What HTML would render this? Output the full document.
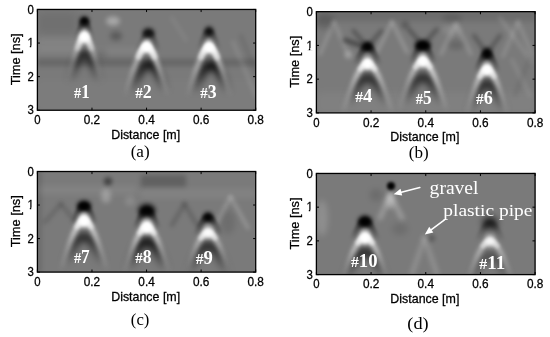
<!DOCTYPE html>
<html><head><meta charset="utf-8"><style>
html,body{margin:0;padding:0;background:#fff;width:550px;height:337px;overflow:hidden}
svg{display:block}
</style></head><body>
<svg width="550" height="337" viewBox="0 0 550 337">
<defs>
<clipPath id="clipa"><rect x="37.4" y="9.45" width="218.30" height="100.80"/></clipPath>
<clipPath id="clipb"><rect x="316.4" y="11.65" width="218.70" height="101.25"/></clipPath>
<clipPath id="clipc"><rect x="37.4" y="171.5" width="218.30" height="100.60"/></clipPath>
<clipPath id="clipd"><rect x="316.4" y="173.45" width="218.70" height="101.15"/></clipPath>
<filter id="bl0" filterUnits="userSpaceOnUse" x="0" y="0" width="550" height="337" color-interpolation-filters="sRGB"><feGaussianBlur stdDeviation="4"/></filter>
<filter id="bl1" filterUnits="userSpaceOnUse" x="0" y="0" width="550" height="337" color-interpolation-filters="sRGB"><feGaussianBlur stdDeviation="3"/></filter>
<filter id="bl2" filterUnits="userSpaceOnUse" x="0" y="0" width="550" height="337" color-interpolation-filters="sRGB"><feGaussianBlur stdDeviation="2.5"/></filter>
<filter id="bl3" filterUnits="userSpaceOnUse" x="0" y="0" width="550" height="337" color-interpolation-filters="sRGB"><feGaussianBlur stdDeviation="2.2"/></filter>
<linearGradient id="lg1" gradientUnits="userSpaceOnUse" x1="0" y1="54.0" x2="0" y2="82.0"><stop offset="0" stop-color="#000" stop-opacity="0.7"/><stop offset="1" stop-color="#000" stop-opacity="0"/></linearGradient>
<linearGradient id="lg2" gradientUnits="userSpaceOnUse" x1="0" y1="21.0" x2="0" y2="39.0"><stop offset="0" stop-color="#000" stop-opacity="0.6"/><stop offset="1" stop-color="#000" stop-opacity="0"/></linearGradient>
<filter id="bl4" filterUnits="userSpaceOnUse" x="0" y="0" width="550" height="337" color-interpolation-filters="sRGB"><feGaussianBlur stdDeviation="1.8"/></filter>
<filter id="bl5" filterUnits="userSpaceOnUse" x="0" y="0" width="550" height="337" color-interpolation-filters="sRGB"><feGaussianBlur stdDeviation="2.3"/></filter>
<linearGradient id="lg3" gradientUnits="userSpaceOnUse" x1="0" y1="36.5" x2="0" y2="82.5"><stop offset="0" stop-color="#fff" stop-opacity="0.65"/><stop offset="1" stop-color="#fff" stop-opacity="0"/></linearGradient>
<filter id="bl6" filterUnits="userSpaceOnUse" x="0" y="0" width="550" height="337" color-interpolation-filters="sRGB"><feGaussianBlur stdDeviation="2.0"/></filter>
<linearGradient id="lg4" gradientUnits="userSpaceOnUse" x1="0" y1="36.5" x2="0" y2="82.5"><stop offset="0" stop-color="#fff" stop-opacity="0.65"/><stop offset="1" stop-color="#fff" stop-opacity="0"/></linearGradient>
<linearGradient id="lg5" gradientUnits="userSpaceOnUse" x1="0" y1="33.5" x2="0" y2="56.5"><stop offset="0" stop-color="#fff" stop-opacity="0.9"/><stop offset="1" stop-color="#fff" stop-opacity="0"/></linearGradient>
<filter id="bl7" filterUnits="userSpaceOnUse" x="0" y="0" width="550" height="337" color-interpolation-filters="sRGB"><feGaussianBlur stdDeviation="1.6"/></filter>
<linearGradient id="lg6" gradientUnits="userSpaceOnUse" x1="0" y1="64.5" x2="0" y2="92.5"><stop offset="0" stop-color="#000" stop-opacity="0.8"/><stop offset="1" stop-color="#000" stop-opacity="0"/></linearGradient>
<linearGradient id="lg7" gradientUnits="userSpaceOnUse" x1="0" y1="33.0" x2="0" y2="51.0"><stop offset="0" stop-color="#000" stop-opacity="0.4"/><stop offset="1" stop-color="#000" stop-opacity="0"/></linearGradient>
<linearGradient id="lg8" gradientUnits="userSpaceOnUse" x1="0" y1="46.5" x2="0" y2="96.5"><stop offset="0" stop-color="#fff" stop-opacity="0.75"/><stop offset="1" stop-color="#fff" stop-opacity="0"/></linearGradient>
<linearGradient id="lg9" gradientUnits="userSpaceOnUse" x1="0" y1="46.5" x2="0" y2="96.5"><stop offset="0" stop-color="#fff" stop-opacity="0.95"/><stop offset="1" stop-color="#fff" stop-opacity="0"/></linearGradient>
<linearGradient id="lg10" gradientUnits="userSpaceOnUse" x1="0" y1="43.5" x2="0" y2="68.5"><stop offset="0" stop-color="#fff" stop-opacity="1.0"/><stop offset="1" stop-color="#fff" stop-opacity="0"/></linearGradient>
<linearGradient id="lg11" gradientUnits="userSpaceOnUse" x1="0" y1="65.5" x2="0" y2="93.5"><stop offset="0" stop-color="#000" stop-opacity="0.85"/><stop offset="1" stop-color="#000" stop-opacity="0"/></linearGradient>
<linearGradient id="lg12" gradientUnits="userSpaceOnUse" x1="0" y1="31.5" x2="0" y2="49.5"><stop offset="0" stop-color="#000" stop-opacity="0.4"/><stop offset="1" stop-color="#000" stop-opacity="0"/></linearGradient>
<linearGradient id="lg13" gradientUnits="userSpaceOnUse" x1="0" y1="47.0" x2="0" y2="97.0"><stop offset="0" stop-color="#fff" stop-opacity="0.75"/><stop offset="1" stop-color="#fff" stop-opacity="0"/></linearGradient>
<linearGradient id="lg14" gradientUnits="userSpaceOnUse" x1="0" y1="47.0" x2="0" y2="97.0"><stop offset="0" stop-color="#fff" stop-opacity="0.9"/><stop offset="1" stop-color="#fff" stop-opacity="0"/></linearGradient>
<linearGradient id="lg15" gradientUnits="userSpaceOnUse" x1="0" y1="44.0" x2="0" y2="69.0"><stop offset="0" stop-color="#fff" stop-opacity="1.0"/><stop offset="1" stop-color="#fff" stop-opacity="0"/></linearGradient>
<filter id="bl8" filterUnits="userSpaceOnUse" x="0" y="0" width="550" height="337" color-interpolation-filters="sRGB"><feGaussianBlur stdDeviation="0.35"/></filter>
<linearGradient id="lg16" gradientUnits="userSpaceOnUse" x1="0" y1="78.0" x2="0" y2="106.0"><stop offset="0" stop-color="#000" stop-opacity="0.65"/><stop offset="1" stop-color="#000" stop-opacity="0"/></linearGradient>
<linearGradient id="lg17" gradientUnits="userSpaceOnUse" x1="0" y1="46.8" x2="0" y2="64.8"><stop offset="0" stop-color="#000" stop-opacity="0.6"/><stop offset="1" stop-color="#000" stop-opacity="0"/></linearGradient>
<linearGradient id="lg18" gradientUnits="userSpaceOnUse" x1="0" y1="63.5" x2="0" y2="113.5"><stop offset="0" stop-color="#fff" stop-opacity="0.8"/><stop offset="1" stop-color="#fff" stop-opacity="0"/></linearGradient>
<linearGradient id="lg19" gradientUnits="userSpaceOnUse" x1="0" y1="63.5" x2="0" y2="113.5"><stop offset="0" stop-color="#fff" stop-opacity="0.8"/><stop offset="1" stop-color="#fff" stop-opacity="0"/></linearGradient>
<linearGradient id="lg20" gradientUnits="userSpaceOnUse" x1="0" y1="60.5" x2="0" y2="83.5"><stop offset="0" stop-color="#fff" stop-opacity="0.85"/><stop offset="1" stop-color="#fff" stop-opacity="0"/></linearGradient>
<linearGradient id="lg21" gradientUnits="userSpaceOnUse" x1="0" y1="77.4" x2="0" y2="105.4"><stop offset="0" stop-color="#000" stop-opacity="0.65"/><stop offset="1" stop-color="#000" stop-opacity="0"/></linearGradient>
<linearGradient id="lg22" gradientUnits="userSpaceOnUse" x1="0" y1="45.4" x2="0" y2="63.4"><stop offset="0" stop-color="#000" stop-opacity="0.6"/><stop offset="1" stop-color="#000" stop-opacity="0"/></linearGradient>
<linearGradient id="lg23" gradientUnits="userSpaceOnUse" x1="0" y1="61.0" x2="0" y2="111.0"><stop offset="0" stop-color="#fff" stop-opacity="0.65"/><stop offset="1" stop-color="#fff" stop-opacity="0"/></linearGradient>
<linearGradient id="lg24" gradientUnits="userSpaceOnUse" x1="0" y1="61.0" x2="0" y2="111.0"><stop offset="0" stop-color="#fff" stop-opacity="0.95"/><stop offset="1" stop-color="#fff" stop-opacity="0"/></linearGradient>
<linearGradient id="lg25" gradientUnits="userSpaceOnUse" x1="0" y1="58.0" x2="0" y2="81.0"><stop offset="0" stop-color="#fff" stop-opacity="0.85"/><stop offset="1" stop-color="#fff" stop-opacity="0"/></linearGradient>
<linearGradient id="lg26" gradientUnits="userSpaceOnUse" x1="0" y1="84.0" x2="0" y2="112.0"><stop offset="0" stop-color="#000" stop-opacity="0.65"/><stop offset="1" stop-color="#000" stop-opacity="0"/></linearGradient>
<linearGradient id="lg27" gradientUnits="userSpaceOnUse" x1="0" y1="53.7" x2="0" y2="71.7"><stop offset="0" stop-color="#000" stop-opacity="0.6"/><stop offset="1" stop-color="#000" stop-opacity="0"/></linearGradient>
<linearGradient id="lg28" gradientUnits="userSpaceOnUse" x1="0" y1="69.4" x2="0" y2="115.4"><stop offset="0" stop-color="#fff" stop-opacity="0.8"/><stop offset="1" stop-color="#fff" stop-opacity="0"/></linearGradient>
<linearGradient id="lg29" gradientUnits="userSpaceOnUse" x1="0" y1="69.4" x2="0" y2="115.4"><stop offset="0" stop-color="#fff" stop-opacity="0.8"/><stop offset="1" stop-color="#fff" stop-opacity="0"/></linearGradient>
<linearGradient id="lg30" gradientUnits="userSpaceOnUse" x1="0" y1="66.4" x2="0" y2="89.4"><stop offset="0" stop-color="#fff" stop-opacity="0.85"/><stop offset="1" stop-color="#fff" stop-opacity="0"/></linearGradient>
<linearGradient id="lg31" gradientUnits="userSpaceOnUse" x1="0" y1="237.0" x2="0" y2="265.0"><stop offset="0" stop-color="#000" stop-opacity="0.65"/><stop offset="1" stop-color="#000" stop-opacity="0"/></linearGradient>
<linearGradient id="lg32" gradientUnits="userSpaceOnUse" x1="0" y1="206.0" x2="0" y2="224.0"><stop offset="0" stop-color="#000" stop-opacity="0.6"/><stop offset="1" stop-color="#000" stop-opacity="0"/></linearGradient>
<linearGradient id="lg33" gradientUnits="userSpaceOnUse" x1="0" y1="220.5" x2="0" y2="270.5"><stop offset="0" stop-color="#fff" stop-opacity="0.85"/><stop offset="1" stop-color="#fff" stop-opacity="0"/></linearGradient>
<linearGradient id="lg34" gradientUnits="userSpaceOnUse" x1="0" y1="220.5" x2="0" y2="270.5"><stop offset="0" stop-color="#fff" stop-opacity="0.85"/><stop offset="1" stop-color="#fff" stop-opacity="0"/></linearGradient>
<linearGradient id="lg35" gradientUnits="userSpaceOnUse" x1="0" y1="217.5" x2="0" y2="240.5"><stop offset="0" stop-color="#fff" stop-opacity="0.85"/><stop offset="1" stop-color="#fff" stop-opacity="0"/></linearGradient>
<linearGradient id="lg36" gradientUnits="userSpaceOnUse" x1="0" y1="242.0" x2="0" y2="270.0"><stop offset="0" stop-color="#000" stop-opacity="0.8"/><stop offset="1" stop-color="#000" stop-opacity="0"/></linearGradient>
<linearGradient id="lg37" gradientUnits="userSpaceOnUse" x1="0" y1="210.5" x2="0" y2="228.5"><stop offset="0" stop-color="#000" stop-opacity="0.7"/><stop offset="1" stop-color="#000" stop-opacity="0"/></linearGradient>
<filter id="bl9" filterUnits="userSpaceOnUse" x="0" y="0" width="550" height="337" color-interpolation-filters="sRGB"><feGaussianBlur stdDeviation="2.6"/></filter>
<linearGradient id="lg38" gradientUnits="userSpaceOnUse" x1="0" y1="227.0" x2="0" y2="273.0"><stop offset="0" stop-color="#fff" stop-opacity="0.85"/><stop offset="1" stop-color="#fff" stop-opacity="0"/></linearGradient>
<linearGradient id="lg39" gradientUnits="userSpaceOnUse" x1="0" y1="227.0" x2="0" y2="273.0"><stop offset="0" stop-color="#fff" stop-opacity="0.85"/><stop offset="1" stop-color="#fff" stop-opacity="0"/></linearGradient>
<linearGradient id="lg40" gradientUnits="userSpaceOnUse" x1="0" y1="224.0" x2="0" y2="247.0"><stop offset="0" stop-color="#fff" stop-opacity="0.85"/><stop offset="1" stop-color="#fff" stop-opacity="0"/></linearGradient>
<linearGradient id="lg41" gradientUnits="userSpaceOnUse" x1="0" y1="246.0" x2="0" y2="274.0"><stop offset="0" stop-color="#000" stop-opacity="0.65"/><stop offset="1" stop-color="#000" stop-opacity="0"/></linearGradient>
<linearGradient id="lg42" gradientUnits="userSpaceOnUse" x1="0" y1="217.3" x2="0" y2="235.3"><stop offset="0" stop-color="#000" stop-opacity="0.6"/><stop offset="1" stop-color="#000" stop-opacity="0"/></linearGradient>
<linearGradient id="lg43" gradientUnits="userSpaceOnUse" x1="0" y1="232.5" x2="0" y2="272.5"><stop offset="0" stop-color="#fff" stop-opacity="0.65"/><stop offset="1" stop-color="#fff" stop-opacity="0"/></linearGradient>
<linearGradient id="lg44" gradientUnits="userSpaceOnUse" x1="0" y1="232.5" x2="0" y2="272.5"><stop offset="0" stop-color="#fff" stop-opacity="0.65"/><stop offset="1" stop-color="#fff" stop-opacity="0"/></linearGradient>
<linearGradient id="lg45" gradientUnits="userSpaceOnUse" x1="0" y1="229.5" x2="0" y2="252.5"><stop offset="0" stop-color="#fff" stop-opacity="0.85"/><stop offset="1" stop-color="#fff" stop-opacity="0"/></linearGradient>
<linearGradient id="lg46" gradientUnits="userSpaceOnUse" x1="0" y1="252.0" x2="0" y2="280.0"><stop offset="0" stop-color="#000" stop-opacity="0.65"/><stop offset="1" stop-color="#000" stop-opacity="0"/></linearGradient>
<linearGradient id="lg47" gradientUnits="userSpaceOnUse" x1="0" y1="221.5" x2="0" y2="239.5"><stop offset="0" stop-color="#000" stop-opacity="0.6"/><stop offset="1" stop-color="#000" stop-opacity="0"/></linearGradient>
<linearGradient id="lg48" gradientUnits="userSpaceOnUse" x1="0" y1="237.5" x2="0" y2="279.5"><stop offset="0" stop-color="#fff" stop-opacity="0.8"/><stop offset="1" stop-color="#fff" stop-opacity="0"/></linearGradient>
<linearGradient id="lg49" gradientUnits="userSpaceOnUse" x1="0" y1="237.5" x2="0" y2="279.5"><stop offset="0" stop-color="#fff" stop-opacity="0.8"/><stop offset="1" stop-color="#fff" stop-opacity="0"/></linearGradient>
<linearGradient id="lg50" gradientUnits="userSpaceOnUse" x1="0" y1="234.5" x2="0" y2="257.5"><stop offset="0" stop-color="#fff" stop-opacity="0.85"/><stop offset="1" stop-color="#fff" stop-opacity="0"/></linearGradient>
<linearGradient id="lg51" gradientUnits="userSpaceOnUse" x1="0" y1="256.0" x2="0" y2="284.0"><stop offset="0" stop-color="#000" stop-opacity="0.35"/><stop offset="1" stop-color="#000" stop-opacity="0"/></linearGradient>
<linearGradient id="lg52" gradientUnits="userSpaceOnUse" x1="0" y1="223.0" x2="0" y2="241.0"><stop offset="0" stop-color="#000" stop-opacity="0.35"/><stop offset="1" stop-color="#000" stop-opacity="0"/></linearGradient>
<linearGradient id="lg53" gradientUnits="userSpaceOnUse" x1="0" y1="241.0" x2="0" y2="285.0"><stop offset="0" stop-color="#fff" stop-opacity="0.6"/><stop offset="1" stop-color="#fff" stop-opacity="0"/></linearGradient>
<linearGradient id="lg54" gradientUnits="userSpaceOnUse" x1="0" y1="241.0" x2="0" y2="285.0"><stop offset="0" stop-color="#fff" stop-opacity="0.6"/><stop offset="1" stop-color="#fff" stop-opacity="0"/></linearGradient>
<linearGradient id="lg55" gradientUnits="userSpaceOnUse" x1="0" y1="238.0" x2="0" y2="261.0"><stop offset="0" stop-color="#fff" stop-opacity="0.65"/><stop offset="1" stop-color="#fff" stop-opacity="0"/></linearGradient>
<filter id="bl10" filterUnits="userSpaceOnUse" x="0" y="0" width="550" height="337" color-interpolation-filters="sRGB"><feGaussianBlur stdDeviation="0.4"/></filter>
</defs>
<g clip-path="url(#clipa)">
<rect x="37.4" y="9.45" width="218.30" height="100.80" fill="#7a7a7a"/>
<rect x="37.0" y="12.0" width="40.0" height="22.0" fill="#000" opacity="0.08" filter="url(#bl0)"/>
<rect x="37.0" y="38.0" width="50.0" height="10.0" fill="#fff" opacity="0.07" filter="url(#bl1)"/>
<rect x="37.0" y="59.0" width="220.0" height="7.0" fill="#000" opacity="0.16" filter="url(#bl2)"/>
<rect x="37.0" y="47.0" width="100.0" height="7.0" fill="#fff" opacity="0.06" filter="url(#bl2)"/>
<rect x="37.0" y="80.0" width="220.0" height="30.0" fill="#fff" opacity="0.02" filter="url(#bl0)"/>
<ellipse cx="113.0" cy="21.0" rx="7" ry="4.5" fill="#fff" opacity="0.35" filter="url(#bl2)"/>
<ellipse cx="116.0" cy="36.0" rx="6" ry="4.5" fill="#000" opacity="0.25" filter="url(#bl2)"/>
<ellipse cx="101.0" cy="54.0" rx="5" ry="5" fill="#000" opacity="0.12" filter="url(#bl1)"/>
<path d="M233.0,42.0 L256.0,96.0" stroke="#fff" stroke-opacity="0.1" stroke-width="4" stroke-linecap="round" filter="url(#bl3)"/>
<path d="M241.0,36.0 L256.0,72.0" stroke="#000" stroke-opacity="0.09" stroke-width="4" stroke-linecap="round" filter="url(#bl3)"/>
<path d="M172.0,18.0 L186.0,40.0" stroke="#fff" stroke-opacity="0.07" stroke-width="4" stroke-linecap="round" filter="url(#bl3)"/>
<path d="M66.4,94.1 L66.9,92.4 L67.4,90.7 L67.9,89.1 L68.4,87.4 L68.9,85.8 L69.4,84.2 L69.9,82.6 L70.4,81.0 L70.9,79.5 L71.4,77.9 L71.9,76.4 L72.4,74.9 L72.9,73.5 L73.4,72.1 L73.9,70.7 L74.4,69.3 L74.9,68.0 L75.4,66.7 L75.9,65.5 L76.4,64.3 L76.9,63.2 L77.4,62.1 L77.9,61.0 L78.4,60.1 L78.9,59.1 L79.4,58.3 L79.9,57.5 L80.4,56.8 L80.9,56.1 L81.4,55.6 L81.9,55.1 L82.4,54.7 L82.9,54.4 L83.4,54.2 L83.9,54.0 L84.4,54.0 L84.9,54.0 L85.4,54.2 L85.9,54.4 L86.4,54.7 L86.9,55.1 L87.4,55.6 L87.9,56.1 L88.4,56.8 L88.9,57.5 L89.4,58.3 L89.9,59.1 L90.4,60.1 L90.9,61.0 L91.4,62.1 L91.9,63.2 L92.4,64.3 L92.9,65.5 L93.4,66.7 L93.9,68.0 L94.4,69.3 L94.9,70.7 L95.4,72.1 L95.9,73.5 L96.4,74.9 L96.9,76.4 L97.4,77.9 L97.9,79.5 L98.4,81.0 L98.9,82.6 L99.4,84.2 L99.9,85.8 L100.4,87.4 L100.9,89.1 L101.4,90.7 L101.9,92.4 L102.4,94.1" fill="none" stroke="url(#lg1)" stroke-width="9" stroke-linejoin="round" stroke-linecap="round" filter="url(#bl1)"/>
<path d="M70.4,66.6 L70.9,64.7 L71.4,62.7 L71.9,60.8 L72.4,58.8 L72.9,56.9 L73.4,54.9 L73.9,53.0 L74.4,51.1 L74.9,49.2 L75.4,47.3 L75.9,45.4 L76.4,43.5 L76.9,41.6 L77.4,39.7 L77.9,37.9 L78.4,36.1 L78.9,34.3 L79.4,32.5 L79.9,30.8 L80.4,29.2 L80.9,27.6 L81.4,26.1 L81.9,24.7 L82.4,23.5 L82.9,22.5 L83.4,21.7 L83.9,21.2 L84.4,21.0 L84.9,21.2 L85.4,21.7 L85.9,22.5 L86.4,23.5 L86.9,24.7 L87.4,26.1 L87.9,27.6 L88.4,29.2 L88.9,30.8 L89.4,32.5 L89.9,34.3 L90.4,36.1 L90.9,37.9 L91.4,39.7 L91.9,41.6 L92.4,43.5 L92.9,45.4 L93.4,47.3 L93.9,49.2 L94.4,51.1 L94.9,53.0 L95.4,54.9 L95.9,56.9 L96.4,58.8 L96.9,60.8 L97.4,62.7 L97.9,64.7 L98.4,66.6" fill="none" stroke="url(#lg2)" stroke-width="6" stroke-linejoin="round" stroke-linecap="round" filter="url(#bl4)"/>
<ellipse cx="84.4" cy="21.0" rx="4.6" ry="4.6" fill="#000" opacity="1.0" filter="url(#bl5)"/>
<path d="M62.4,101.5 L62.9,99.6 L63.4,97.7 L63.9,95.8 L64.4,94.0 L64.9,92.1 L65.4,90.2 L65.9,88.4 L66.4,86.5 L66.9,84.6 L67.4,82.8 L67.9,81.0 L68.3,79.1 L68.8,77.3 L69.3,75.5 L69.8,73.7 L70.3,71.9 L70.8,70.1 L71.3,68.3 L71.8,66.6 L72.3,64.9 L72.8,63.1 L73.3,61.4 L73.8,59.8 L74.3,58.1 L74.8,56.5 L75.3,54.9 L75.8,53.3 L76.3,51.7 L76.8,50.2 L77.3,48.8 L77.8,47.4 L78.3,46.0 L78.8,44.7 L79.2,43.5 L79.7,42.3 L80.2,41.2 L80.7,40.2 L81.2,39.3 L81.7,38.5 L82.2,37.9 L82.7,37.3 L83.2,36.9 L83.7,36.6 L84.2,36.5 L84.7,36.5" fill="none" stroke="url(#lg3)" stroke-width="4.5" stroke-linejoin="round" stroke-linecap="round" filter="url(#bl6)"/>
<path d="M84.1,36.5 L84.6,36.5 L85.1,36.6 L85.6,36.9 L86.1,37.3 L86.6,37.9 L87.1,38.5 L87.6,39.3 L88.1,40.2 L88.6,41.2 L89.1,42.3 L89.6,43.5 L90.0,44.7 L90.5,46.0 L91.0,47.4 L91.5,48.8 L92.0,50.2 L92.5,51.7 L93.0,53.3 L93.5,54.9 L94.0,56.5 L94.5,58.1 L95.0,59.8 L95.5,61.4 L96.0,63.1 L96.5,64.9 L97.0,66.6 L97.5,68.3 L98.0,70.1 L98.5,71.9 L99.0,73.7 L99.5,75.5 L100.0,77.3 L100.5,79.1 L100.9,81.0 L101.4,82.8 L101.9,84.6 L102.4,86.5 L102.9,88.4 L103.4,90.2 L103.9,92.1 L104.4,94.0 L104.9,95.8 L105.4,97.7 L105.9,99.6 L106.4,101.5" fill="none" stroke="url(#lg4)" stroke-width="4.5" stroke-linejoin="round" stroke-linecap="round" filter="url(#bl6)"/>
<ellipse cx="84.4" cy="36.5" rx="5.5" ry="6.5" fill="#fff" opacity="1.0" filter="url(#bl3)"/>
<path d="M77.4,48.4 L77.9,47.0 L78.4,45.6 L78.9,44.3 L79.4,43.1 L79.9,41.9 L80.4,40.9 L80.9,39.9 L81.4,39.0 L81.9,38.3 L82.4,37.7 L82.9,37.2 L83.4,36.8 L83.9,36.6 L84.4,36.5 L84.9,36.6 L85.4,36.8 L85.9,37.2 L86.4,37.7 L86.9,38.3 L87.4,39.0 L87.9,39.9 L88.4,40.9 L88.9,41.9 L89.4,43.1 L89.9,44.3 L90.4,45.6 L90.9,47.0 L91.4,48.4" fill="none" stroke="url(#lg5)" stroke-width="5.5" stroke-linejoin="round" stroke-linecap="round" filter="url(#bl7)"/>
<path d="M130.5,95.9 L131.0,94.4 L131.5,93.0 L132.0,91.7 L132.5,90.3 L133.0,88.9 L133.5,87.6 L134.0,86.3 L134.5,85.0 L135.0,83.8 L135.5,82.6 L136.0,81.3 L136.5,80.2 L137.0,79.0 L137.5,77.9 L138.0,76.8 L138.5,75.8 L139.0,74.8 L139.5,73.8 L140.0,72.9 L140.5,72.0 L141.0,71.1 L141.5,70.3 L142.0,69.5 L142.5,68.8 L143.0,68.1 L143.5,67.5 L144.0,67.0 L144.5,66.5 L145.0,66.0 L145.5,65.6 L146.0,65.3 L146.5,65.0 L147.0,64.8 L147.5,64.6 L148.0,64.5 L148.5,64.5 L149.0,64.5 L149.5,64.6 L150.0,64.8 L150.5,65.0 L151.0,65.3 L151.5,65.6 L152.0,66.0 L152.5,66.5 L153.0,67.0 L153.5,67.5 L154.0,68.1 L154.5,68.8 L155.0,69.5 L155.5,70.3 L156.0,71.1 L156.5,72.0 L157.0,72.9 L157.5,73.8 L158.0,74.8 L158.5,75.8 L159.0,76.8 L159.5,77.9 L160.0,79.0 L160.5,80.2 L161.0,81.3 L161.5,82.6 L162.0,83.8 L162.5,85.0 L163.0,86.3 L163.5,87.6 L164.0,88.9 L164.5,90.3 L165.0,91.7 L165.5,93.0 L166.0,94.4 L166.5,95.9" fill="none" stroke="url(#lg6)" stroke-width="9" stroke-linejoin="round" stroke-linecap="round" filter="url(#bl1)"/>
<path d="M134.5,66.4 L135.0,64.7 L135.5,63.0 L136.0,61.4 L136.5,59.7 L137.0,58.1 L137.5,56.5 L138.0,54.9 L138.5,53.3 L139.0,51.8 L139.5,50.2 L140.0,48.7 L140.5,47.3 L141.0,45.8 L141.5,44.5 L142.0,43.1 L142.5,41.8 L143.0,40.6 L143.5,39.4 L144.0,38.3 L144.5,37.3 L145.0,36.3 L145.5,35.5 L146.0,34.8 L146.5,34.1 L147.0,33.6 L147.5,33.3 L148.0,33.1 L148.5,33.0 L149.0,33.1 L149.5,33.3 L150.0,33.6 L150.5,34.1 L151.0,34.8 L151.5,35.5 L152.0,36.3 L152.5,37.3 L153.0,38.3 L153.5,39.4 L154.0,40.6 L154.5,41.8 L155.0,43.1 L155.5,44.5 L156.0,45.8 L156.5,47.3 L157.0,48.7 L157.5,50.2 L158.0,51.8 L158.5,53.3 L159.0,54.9 L159.5,56.5 L160.0,58.1 L160.5,59.7 L161.0,61.4 L161.5,63.0 L162.0,64.7 L162.5,66.4" fill="none" stroke="url(#lg7)" stroke-width="6" stroke-linejoin="round" stroke-linecap="round" filter="url(#bl4)"/>
<ellipse cx="148.5" cy="33.0" rx="6" ry="5" fill="#000" opacity="0.75" filter="url(#bl5)"/>
<path d="M120.5,112.5 L121.0,110.8 L121.5,109.1 L122.0,107.4 L122.5,105.7 L123.0,104.0 L123.5,102.3 L124.0,100.7 L124.5,99.0 L125.0,97.3 L125.5,95.7 L126.0,94.0 L126.5,92.4 L127.0,90.7 L127.4,89.1 L127.9,87.5 L128.4,85.9 L128.9,84.3 L129.4,82.7 L129.9,81.1 L130.4,79.5 L130.9,78.0 L131.4,76.4 L131.9,74.9 L132.4,73.4 L132.9,71.9 L133.4,70.5 L133.9,69.0 L134.4,67.6 L134.9,66.2 L135.4,64.8 L135.9,63.4 L136.4,62.1 L136.9,60.8 L137.4,59.6 L137.9,58.4 L138.4,57.2 L138.9,56.1 L139.4,55.0 L139.9,53.9 L140.3,52.9 L140.8,52.0 L141.3,51.1 L141.8,50.3 L142.3,49.6 L142.8,48.9 L143.3,48.3 L143.8,47.8 L144.3,47.4 L144.8,47.0 L145.3,46.8 L145.8,46.6 L146.3,46.5 L146.8,46.5" fill="none" stroke="url(#lg8)" stroke-width="4.5" stroke-linejoin="round" stroke-linecap="round" filter="url(#bl6)"/>
<path d="M146.2,46.5 L146.7,46.5 L147.2,46.6 L147.7,46.8 L148.2,47.0 L148.7,47.4 L149.2,47.8 L149.7,48.3 L150.2,48.9 L150.7,49.6 L151.2,50.3 L151.7,51.1 L152.2,52.0 L152.7,52.9 L153.1,53.9 L153.6,55.0 L154.1,56.1 L154.6,57.2 L155.1,58.4 L155.6,59.6 L156.1,60.8 L156.6,62.1 L157.1,63.4 L157.6,64.8 L158.1,66.2 L158.6,67.6 L159.1,69.0 L159.6,70.5 L160.1,71.9 L160.6,73.4 L161.1,74.9 L161.6,76.4 L162.1,78.0 L162.6,79.5 L163.1,81.1 L163.6,82.7 L164.1,84.3 L164.6,85.9 L165.1,87.5 L165.6,89.1 L166.0,90.7 L166.5,92.4 L167.0,94.0 L167.5,95.7 L168.0,97.3 L168.5,99.0 L169.0,100.7 L169.5,102.3 L170.0,104.0 L170.5,105.7 L171.0,107.4 L171.5,109.1 L172.0,110.8 L172.5,112.5" fill="none" stroke="url(#lg9)" stroke-width="4.5" stroke-linejoin="round" stroke-linecap="round" filter="url(#bl6)"/>
<ellipse cx="146.5" cy="46.5" rx="5" ry="6.5" fill="#fff" opacity="1.0" filter="url(#bl3)"/>
<path d="M138.5,56.9 L139.0,55.7 L139.5,54.7 L140.0,53.6 L140.5,52.6 L141.0,51.7 L141.5,50.9 L142.0,50.1 L142.5,49.3 L143.0,48.7 L143.5,48.1 L144.0,47.6 L144.5,47.2 L145.0,46.9 L145.5,46.7 L146.0,46.5 L146.5,46.5 L147.0,46.5 L147.5,46.7 L148.0,46.9 L148.5,47.2 L149.0,47.6 L149.5,48.1 L150.0,48.7 L150.5,49.3 L151.0,50.1 L151.5,50.9 L152.0,51.7 L152.5,52.6 L153.0,53.6 L153.5,54.7 L154.0,55.7 L154.5,56.9" fill="none" stroke="url(#lg10)" stroke-width="6" stroke-linejoin="round" stroke-linecap="round" filter="url(#bl7)"/>
<path d="M193.0,96.5 L193.5,95.1 L194.0,93.7 L194.5,92.3 L195.0,91.0 L195.5,89.6 L196.0,88.3 L196.5,87.0 L197.0,85.8 L197.5,84.5 L198.0,83.3 L198.5,82.1 L199.0,81.0 L199.5,79.8 L200.0,78.7 L200.5,77.6 L201.0,76.6 L201.5,75.6 L202.0,74.6 L202.5,73.7 L203.0,72.8 L203.5,72.0 L204.0,71.2 L204.5,70.4 L205.0,69.7 L205.5,69.1 L206.0,68.5 L206.5,67.9 L207.0,67.4 L207.5,67.0 L208.0,66.6 L208.5,66.3 L209.0,66.0 L209.5,65.8 L210.0,65.6 L210.5,65.5 L211.0,65.5 L211.5,65.5 L212.0,65.6 L212.5,65.8 L213.0,66.0 L213.5,66.3 L214.0,66.6 L214.5,67.0 L215.0,67.4 L215.5,67.9 L216.0,68.5 L216.5,69.1 L217.0,69.7 L217.5,70.4 L218.0,71.2 L218.5,72.0 L219.0,72.8 L219.5,73.7 L220.0,74.6 L220.5,75.6 L221.0,76.6 L221.5,77.6 L222.0,78.7 L222.5,79.8 L223.0,81.0 L223.5,82.1 L224.0,83.3 L224.5,84.5 L225.0,85.8 L225.5,87.0 L226.0,88.3 L226.5,89.6 L227.0,91.0 L227.5,92.3 L228.0,93.7 L228.5,95.1 L229.0,96.5" fill="none" stroke="url(#lg11)" stroke-width="9" stroke-linejoin="round" stroke-linecap="round" filter="url(#bl1)"/>
<path d="M195.0,65.7 L195.5,64.1 L196.0,62.4 L196.5,60.7 L197.0,59.0 L197.5,57.4 L198.0,55.7 L198.5,54.1 L199.0,52.5 L199.5,50.9 L200.0,49.4 L200.5,47.9 L201.0,46.4 L201.5,44.9 L202.0,43.5 L202.5,42.1 L203.0,40.7 L203.5,39.5 L204.0,38.2 L204.5,37.1 L205.0,36.0 L205.5,35.0 L206.0,34.1 L206.5,33.4 L207.0,32.7 L207.5,32.2 L208.0,31.8 L208.5,31.6 L209.0,31.5 L209.5,31.6 L210.0,31.8 L210.5,32.2 L211.0,32.7 L211.5,33.4 L212.0,34.1 L212.5,35.0 L213.0,36.0 L213.5,37.1 L214.0,38.2 L214.5,39.5 L215.0,40.7 L215.5,42.1 L216.0,43.5 L216.5,44.9 L217.0,46.4 L217.5,47.9 L218.0,49.4 L218.5,50.9 L219.0,52.5 L219.5,54.1 L220.0,55.7 L220.5,57.4 L221.0,59.0 L221.5,60.7 L222.0,62.4 L222.5,64.1 L223.0,65.7" fill="none" stroke="url(#lg12)" stroke-width="6" stroke-linejoin="round" stroke-linecap="round" filter="url(#bl4)"/>
<ellipse cx="209.0" cy="31.5" rx="4.5" ry="5" fill="#000" opacity="0.8" filter="url(#bl5)"/>
<path d="M183.0,112.7 L183.5,111.0 L184.0,109.3 L184.5,107.6 L185.0,105.9 L185.5,104.2 L186.0,102.5 L186.5,100.9 L187.0,99.2 L187.5,97.5 L188.0,95.9 L188.5,94.2 L189.0,92.6 L189.5,90.9 L189.9,89.3 L190.4,87.7 L190.9,86.1 L191.4,84.5 L191.9,82.9 L192.4,81.3 L192.9,79.8 L193.4,78.2 L193.9,76.7 L194.4,75.2 L194.9,73.7 L195.4,72.2 L195.9,70.8 L196.4,69.3 L196.9,67.9 L197.4,66.5 L197.9,65.1 L198.4,63.8 L198.9,62.5 L199.4,61.2 L199.9,60.0 L200.4,58.7 L200.9,57.6 L201.4,56.5 L201.9,55.4 L202.4,54.3 L202.8,53.4 L203.3,52.4 L203.8,51.6 L204.3,50.8 L204.8,50.0 L205.3,49.4 L205.8,48.8 L206.3,48.3 L206.8,47.9 L207.3,47.5 L207.8,47.3 L208.3,47.1 L208.8,47.0 L209.3,47.0" fill="none" stroke="url(#lg13)" stroke-width="4.5" stroke-linejoin="round" stroke-linecap="round" filter="url(#bl6)"/>
<path d="M208.7,47.0 L209.2,47.0 L209.7,47.1 L210.2,47.3 L210.7,47.5 L211.2,47.9 L211.7,48.3 L212.2,48.8 L212.7,49.4 L213.2,50.0 L213.7,50.8 L214.2,51.6 L214.7,52.4 L215.2,53.4 L215.6,54.3 L216.1,55.4 L216.6,56.5 L217.1,57.6 L217.6,58.7 L218.1,60.0 L218.6,61.2 L219.1,62.5 L219.6,63.8 L220.1,65.1 L220.6,66.5 L221.1,67.9 L221.6,69.3 L222.1,70.8 L222.6,72.2 L223.1,73.7 L223.6,75.2 L224.1,76.7 L224.6,78.2 L225.1,79.8 L225.6,81.3 L226.1,82.9 L226.6,84.5 L227.1,86.1 L227.6,87.7 L228.1,89.3 L228.5,90.9 L229.0,92.6 L229.5,94.2 L230.0,95.9 L230.5,97.5 L231.0,99.2 L231.5,100.9 L232.0,102.5 L232.5,104.2 L233.0,105.9 L233.5,107.6 L234.0,109.3 L234.5,111.0 L235.0,112.7" fill="none" stroke="url(#lg14)" stroke-width="4.5" stroke-linejoin="round" stroke-linecap="round" filter="url(#bl6)"/>
<ellipse cx="209.0" cy="47.0" rx="5" ry="6.5" fill="#fff" opacity="1.0" filter="url(#bl3)"/>
<path d="M201.0,57.3 L201.5,56.1 L202.0,55.1 L202.5,54.0 L203.0,53.1 L203.5,52.2 L204.0,51.3 L204.5,50.5 L205.0,49.8 L205.5,49.2 L206.0,48.6 L206.5,48.1 L207.0,47.7 L207.5,47.4 L208.0,47.2 L208.5,47.0 L209.0,47.0 L209.5,47.0 L210.0,47.2 L210.5,47.4 L211.0,47.7 L211.5,48.1 L212.0,48.6 L212.5,49.2 L213.0,49.8 L213.5,50.5 L214.0,51.3 L214.5,52.2 L215.0,53.1 L215.5,54.0 L216.0,55.1 L216.5,56.1 L217.0,57.3" fill="none" stroke="url(#lg15)" stroke-width="6" stroke-linejoin="round" stroke-linecap="round" filter="url(#bl7)"/>
<text x="74.10" y="98.00" font-family="'Liberation Serif', 'Times New Roman', serif" font-size="18.5" font-weight="bold" fill="#fff" textLength="15.60" lengthAdjust="spacingAndGlyphs" filter="url(#bl8)"><tspan font-size="15.5">#</tspan>1</text>
<text x="135.20" y="98.00" font-family="'Liberation Serif', 'Times New Roman', serif" font-size="18.5" font-weight="bold" fill="#fff" textLength="16.50" lengthAdjust="spacingAndGlyphs" filter="url(#bl8)"><tspan font-size="15.5">#</tspan>2</text>
<text x="200.20" y="98.20" font-family="'Liberation Serif', 'Times New Roman', serif" font-size="18.5" font-weight="bold" fill="#fff" textLength="16.30" lengthAdjust="spacingAndGlyphs" filter="url(#bl8)"><tspan font-size="15.5">#</tspan>3</text>
</g>
<path d="M37.40,110.25v-2.6M37.40,9.45v2.6M91.97,110.25v-2.6M91.97,9.45v2.6M146.55,110.25v-2.6M146.55,9.45v2.6M201.12,110.25v-2.6M201.12,9.45v2.6M255.70,110.25v-2.6M255.70,9.45v2.6M37.40,9.45h2.6M255.70,9.45h-2.6M37.40,43.05h2.6M255.70,43.05h-2.6M37.40,76.65h2.6M255.70,76.65h-2.6M37.40,110.25h2.6M255.70,110.25h-2.6" stroke="#000" stroke-width="1" fill="none"/>
<rect x="37.4" y="9.45" width="218.30" height="100.80" fill="none" stroke="#000" stroke-width="1.3"/>
<text transform="translate(33.80,13.55) scale(1,1.07)" x="0" y="0" font-family="'Liberation Sans', Arial, Helvetica, sans-serif" font-size="11.4" text-anchor="end" fill="#000" font-weight="normal" stroke="#000" stroke-width="0.25" >0</text>
<text transform="translate(33.80,47.15) scale(1,1.07)" x="0" y="0" font-family="'Liberation Sans', Arial, Helvetica, sans-serif" font-size="11.4" text-anchor="end" fill="#000" font-weight="normal" stroke="#000" stroke-width="0.25" >1</text>
<rect x="26.80" y="45.70" width="3.00" height="2.6" fill="#fff"/>
<rect x="31.25" y="45.70" width="3.20" height="2.6" fill="#fff"/>
<text transform="translate(33.80,80.75) scale(1,1.07)" x="0" y="0" font-family="'Liberation Sans', Arial, Helvetica, sans-serif" font-size="11.4" text-anchor="end" fill="#000" font-weight="normal" stroke="#000" stroke-width="0.25" >2</text>
<text transform="translate(33.80,114.35) scale(1,1.07)" x="0" y="0" font-family="'Liberation Sans', Arial, Helvetica, sans-serif" font-size="11.4" text-anchor="end" fill="#000" font-weight="normal" stroke="#000" stroke-width="0.25" >3</text>
<text transform="translate(37.40,123.85) scale(1,1.07)" x="0" y="0" font-family="'Liberation Sans', Arial, Helvetica, sans-serif" font-size="11.4" text-anchor="middle" fill="#000" font-weight="normal" stroke="#000" stroke-width="0.25" >0</text>
<text transform="translate(91.97,123.85) scale(1,1.07)" x="0" y="0" font-family="'Liberation Sans', Arial, Helvetica, sans-serif" font-size="11.4" text-anchor="middle" fill="#000" font-weight="normal" textLength="16.4" lengthAdjust="spacingAndGlyphs" stroke="#000" stroke-width="0.25" >0.2</text>
<text transform="translate(146.55,123.85) scale(1,1.07)" x="0" y="0" font-family="'Liberation Sans', Arial, Helvetica, sans-serif" font-size="11.4" text-anchor="middle" fill="#000" font-weight="normal" textLength="16.4" lengthAdjust="spacingAndGlyphs" stroke="#000" stroke-width="0.25" >0.4</text>
<text transform="translate(201.12,123.85) scale(1,1.07)" x="0" y="0" font-family="'Liberation Sans', Arial, Helvetica, sans-serif" font-size="11.4" text-anchor="middle" fill="#000" font-weight="normal" textLength="16.4" lengthAdjust="spacingAndGlyphs" stroke="#000" stroke-width="0.25" >0.6</text>
<text transform="translate(255.70,123.85) scale(1,1.07)" x="0" y="0" font-family="'Liberation Sans', Arial, Helvetica, sans-serif" font-size="11.4" text-anchor="middle" fill="#000" font-weight="normal" textLength="16.4" lengthAdjust="spacingAndGlyphs" stroke="#000" stroke-width="0.25" >0.8</text>
<text transform="translate(145.65,138.65) scale(1,1.07)" x="0" y="0" font-family="'Liberation Sans', Arial, Helvetica, sans-serif" font-size="11.4" text-anchor="middle" fill="#000" font-weight="normal" textLength="69" lengthAdjust="spacingAndGlyphs" stroke="#000" stroke-width="0.25" >Distance [m]</text>
<g transform="translate(20.20,59.35) rotate(-90)"><text transform="translate(0.00,0.00) scale(1,1.07)" x="0" y="0" font-family="'Liberation Sans', Arial, Helvetica, sans-serif" font-size="11.4" text-anchor="middle" fill="#000" font-weight="normal" textLength="52" lengthAdjust="spacingAndGlyphs" stroke="#000" stroke-width="0.25" >Time [ns]</text></g>
<text x="140.15" y="156.50" font-family="'Liberation Serif', 'Times New Roman', serif" font-size="16.5" text-anchor="middle" fill="#000" font-weight="normal" textLength="19.0" lengthAdjust="spacingAndGlyphs" >(a)</text>
<g clip-path="url(#clipb)">
<rect x="316.4" y="11.65" width="218.70" height="101.25" fill="#7a7a7a"/>
<rect x="316.0" y="10.0" width="220.0" height="11.0" fill="#000" opacity="0.12" filter="url(#bl1)"/>
<ellipse cx="325.0" cy="22.0" rx="10" ry="7" fill="#000" opacity="0.18" filter="url(#bl1)"/>
<ellipse cx="452.0" cy="18.0" rx="10" ry="4" fill="#000" opacity="0.12" filter="url(#bl2)"/>
<path d="M320.0,54.0 L334.0,22.0" stroke="#fff" stroke-opacity="0.16" stroke-width="4" stroke-linecap="round" filter="url(#bl6)"/>
<path d="M334.0,22.0 L348.0,54.0" stroke="#fff" stroke-opacity="0.16" stroke-width="4" stroke-linecap="round" filter="url(#bl6)"/>
<path d="M377.0,52.0 L392.0,22.0" stroke="#fff" stroke-opacity="0.18" stroke-width="4" stroke-linecap="round" filter="url(#bl6)"/>
<path d="M392.0,22.0 L407.0,52.0" stroke="#fff" stroke-opacity="0.18" stroke-width="4" stroke-linecap="round" filter="url(#bl6)"/>
<path d="M441.0,54.0 L456.0,24.0" stroke="#fff" stroke-opacity="0.16" stroke-width="4" stroke-linecap="round" filter="url(#bl6)"/>
<path d="M456.0,24.0 L471.0,54.0" stroke="#fff" stroke-opacity="0.16" stroke-width="4" stroke-linecap="round" filter="url(#bl6)"/>
<path d="M503.0,56.0 L518.0,22.0" stroke="#fff" stroke-opacity="0.14" stroke-width="4" stroke-linecap="round" filter="url(#bl6)"/>
<path d="M518.0,22.0 L533.0,56.0" stroke="#fff" stroke-opacity="0.14" stroke-width="4" stroke-linecap="round" filter="url(#bl6)"/>
<path d="M353.5,30.8 L367.5,46.8" stroke="#000" stroke-opacity="0.3" stroke-width="4" stroke-linecap="round" filter="url(#bl6)"/>
<path d="M367.5,46.8 L381.5,30.8" stroke="#000" stroke-opacity="0.3" stroke-width="4" stroke-linecap="round" filter="url(#bl6)"/>
<path d="M408.8,29.4 L422.8,45.4" stroke="#000" stroke-opacity="0.3" stroke-width="4" stroke-linecap="round" filter="url(#bl6)"/>
<path d="M422.8,45.4 L436.8,29.4" stroke="#000" stroke-opacity="0.3" stroke-width="4" stroke-linecap="round" filter="url(#bl6)"/>
<path d="M474.0,35.7 L487.0,53.7" stroke="#000" stroke-opacity="0.28" stroke-width="4" stroke-linecap="round" filter="url(#bl6)"/>
<path d="M487.0,53.7 L500.0,35.7" stroke="#000" stroke-opacity="0.28" stroke-width="4" stroke-linecap="round" filter="url(#bl6)"/>
<ellipse cx="348.5" cy="55.0" rx="4" ry="4" fill="#fff" opacity="0.22" filter="url(#bl6)"/>
<ellipse cx="405.0" cy="25.0" rx="4" ry="4" fill="#000" opacity="0.22" filter="url(#bl6)"/>
<ellipse cx="452.0" cy="30.0" rx="10" ry="5" fill="#fff" opacity="0.1" filter="url(#bl2)"/>
<ellipse cx="456.0" cy="45.0" rx="8" ry="5" fill="#000" opacity="0.14" filter="url(#bl2)"/>
<path d="M500.0,18.0 L532.0,62.0" stroke="#fff" stroke-opacity="0.12" stroke-width="4" stroke-linecap="round" filter="url(#bl6)"/>
<path d="M512.0,60.0 L530.0,95.0" stroke="#fff" stroke-opacity="0.1" stroke-width="4" stroke-linecap="round" filter="url(#bl6)"/>
<path d="M530.0,58.0 L515.0,95.0" stroke="#000" stroke-opacity="0.08" stroke-width="4" stroke-linecap="round" filter="url(#bl6)"/>
<rect x="316.0" y="92.0" width="220.0" height="22.0" fill="#fff" opacity="0.05" filter="url(#bl0)"/>
<path d="M345.0,40.0 L362.0,46.0" stroke="#000" stroke-opacity="0.4" stroke-width="5" stroke-linecap="round" filter="url(#bl6)"/>
<path d="M349.5,103.1 L350.0,101.9 L350.5,100.8 L351.0,99.6 L351.5,98.5 L352.0,97.4 L352.5,96.3 L353.0,95.2 L353.5,94.1 L354.0,93.1 L354.5,92.1 L355.0,91.1 L355.5,90.2 L356.0,89.3 L356.5,88.4 L357.0,87.5 L357.5,86.7 L358.0,85.9 L358.5,85.1 L359.0,84.4 L359.5,83.7 L360.0,83.0 L360.5,82.4 L361.0,81.8 L361.5,81.2 L362.0,80.7 L362.5,80.3 L363.0,79.8 L363.5,79.5 L364.0,79.1 L364.5,78.8 L365.0,78.6 L365.5,78.4 L366.0,78.2 L366.5,78.1 L367.0,78.0 L367.5,78.0 L368.0,78.0 L368.5,78.1 L369.0,78.2 L369.5,78.4 L370.0,78.6 L370.5,78.8 L371.0,79.1 L371.5,79.5 L372.0,79.8 L372.5,80.3 L373.0,80.7 L373.5,81.2 L374.0,81.8 L374.5,82.4 L375.0,83.0 L375.5,83.7 L376.0,84.4 L376.5,85.1 L377.0,85.9 L377.5,86.7 L378.0,87.5 L378.5,88.4 L379.0,89.3 L379.5,90.2 L380.0,91.1 L380.5,92.1 L381.0,93.1 L381.5,94.1 L382.0,95.2 L382.5,96.3 L383.0,97.4 L383.5,98.5 L384.0,99.6 L384.5,100.8 L385.0,101.9 L385.5,103.1" fill="none" stroke="url(#lg16)" stroke-width="9" stroke-linejoin="round" stroke-linecap="round" filter="url(#bl1)"/>
<path d="M353.5,72.0 L354.0,70.5 L354.5,69.1 L355.0,67.8 L355.5,66.4 L356.0,65.1 L356.5,63.8 L357.0,62.5 L357.5,61.3 L358.0,60.0 L358.5,58.8 L359.0,57.7 L359.5,56.6 L360.0,55.5 L360.5,54.5 L361.0,53.5 L361.5,52.6 L362.0,51.7 L362.5,50.9 L363.0,50.2 L363.5,49.5 L364.0,48.9 L364.5,48.3 L365.0,47.9 L365.5,47.5 L366.0,47.2 L366.5,47.0 L367.0,46.8 L367.5,46.8 L368.0,46.8 L368.5,47.0 L369.0,47.2 L369.5,47.5 L370.0,47.9 L370.5,48.3 L371.0,48.9 L371.5,49.5 L372.0,50.2 L372.5,50.9 L373.0,51.7 L373.5,52.6 L374.0,53.5 L374.5,54.5 L375.0,55.5 L375.5,56.6 L376.0,57.7 L376.5,58.8 L377.0,60.0 L377.5,61.3 L378.0,62.5 L378.5,63.8 L379.0,65.1 L379.5,66.4 L380.0,67.8 L380.5,69.1 L381.0,70.5 L381.5,72.0" fill="none" stroke="url(#lg17)" stroke-width="6" stroke-linejoin="round" stroke-linecap="round" filter="url(#bl4)"/>
<ellipse cx="367.5" cy="46.8" rx="5.5" ry="5" fill="#000" opacity="0.95" filter="url(#bl5)"/>
<path d="M341.5,116.4 L342.0,114.9 L342.5,113.4 L343.0,111.9 L343.5,110.4 L344.0,108.9 L344.5,107.5 L345.0,106.0 L345.5,104.6 L346.0,103.1 L346.5,101.7 L347.0,100.3 L347.5,98.9 L348.0,97.5 L348.4,96.1 L348.9,94.8 L349.4,93.4 L349.9,92.1 L350.4,90.8 L350.9,89.4 L351.4,88.2 L351.9,86.9 L352.4,85.6 L352.9,84.4 L353.4,83.2 L353.9,82.0 L354.4,80.9 L354.9,79.7 L355.4,78.6 L355.9,77.5 L356.4,76.5 L356.9,75.4 L357.4,74.4 L357.9,73.5 L358.4,72.6 L358.9,71.7 L359.4,70.8 L359.9,70.0 L360.4,69.2 L360.9,68.5 L361.3,67.8 L361.8,67.1 L362.3,66.6 L362.8,66.0 L363.3,65.5 L363.8,65.1 L364.3,64.7 L364.8,64.3 L365.3,64.1 L365.8,63.8 L366.3,63.7 L366.8,63.6 L367.3,63.5 L367.8,63.5" fill="none" stroke="url(#lg18)" stroke-width="4.5" stroke-linejoin="round" stroke-linecap="round" filter="url(#bl6)"/>
<path d="M367.2,63.5 L367.7,63.5 L368.2,63.6 L368.7,63.7 L369.2,63.8 L369.7,64.1 L370.2,64.3 L370.7,64.7 L371.2,65.1 L371.7,65.5 L372.2,66.0 L372.7,66.6 L373.2,67.1 L373.7,67.8 L374.1,68.5 L374.6,69.2 L375.1,70.0 L375.6,70.8 L376.1,71.7 L376.6,72.6 L377.1,73.5 L377.6,74.4 L378.1,75.4 L378.6,76.5 L379.1,77.5 L379.6,78.6 L380.1,79.7 L380.6,80.9 L381.1,82.0 L381.6,83.2 L382.1,84.4 L382.6,85.6 L383.1,86.9 L383.6,88.2 L384.1,89.4 L384.6,90.8 L385.1,92.1 L385.6,93.4 L386.1,94.8 L386.6,96.1 L387.0,97.5 L387.5,98.9 L388.0,100.3 L388.5,101.7 L389.0,103.1 L389.5,104.6 L390.0,106.0 L390.5,107.5 L391.0,108.9 L391.5,110.4 L392.0,111.9 L392.5,113.4 L393.0,114.9 L393.5,116.4" fill="none" stroke="url(#lg19)" stroke-width="4.5" stroke-linejoin="round" stroke-linecap="round" filter="url(#bl6)"/>
<ellipse cx="367.5" cy="63.5" rx="5" ry="6.5" fill="#fff" opacity="1.0" filter="url(#bl3)"/>
<path d="M360.5,69.0 L361.0,68.3 L361.5,67.6 L362.0,67.0 L362.5,66.4 L363.0,65.8 L363.5,65.4 L364.0,64.9 L364.5,64.6 L365.0,64.2 L365.5,64.0 L366.0,63.8 L366.5,63.6 L367.0,63.5 L367.5,63.5 L368.0,63.5 L368.5,63.6 L369.0,63.8 L369.5,64.0 L370.0,64.2 L370.5,64.6 L371.0,64.9 L371.5,65.4 L372.0,65.8 L372.5,66.4 L373.0,67.0 L373.5,67.6 L374.0,68.3 L374.5,69.0" fill="none" stroke="url(#lg20)" stroke-width="5.5" stroke-linejoin="round" stroke-linecap="round" filter="url(#bl7)"/>
<path d="M404.8,104.0 L405.3,102.7 L405.8,101.5 L406.3,100.3 L406.8,99.1 L407.3,97.9 L407.8,96.7 L408.3,95.6 L408.8,94.5 L409.3,93.4 L409.8,92.4 L410.3,91.3 L410.8,90.3 L411.3,89.3 L411.8,88.4 L412.3,87.5 L412.8,86.6 L413.3,85.8 L413.8,84.9 L414.3,84.2 L414.8,83.4 L415.3,82.7 L415.8,82.1 L416.3,81.4 L416.8,80.9 L417.3,80.3 L417.8,79.8 L418.3,79.4 L418.8,79.0 L419.3,78.6 L419.8,78.3 L420.3,78.0 L420.8,77.8 L421.3,77.6 L421.8,77.5 L422.3,77.4 L422.8,77.4 L423.3,77.4 L423.8,77.5 L424.3,77.6 L424.8,77.8 L425.3,78.0 L425.8,78.3 L426.3,78.6 L426.8,79.0 L427.3,79.4 L427.8,79.8 L428.3,80.3 L428.8,80.9 L429.3,81.4 L429.8,82.1 L430.3,82.7 L430.8,83.4 L431.3,84.2 L431.8,84.9 L432.3,85.8 L432.8,86.6 L433.3,87.5 L433.8,88.4 L434.3,89.3 L434.8,90.3 L435.3,91.3 L435.8,92.4 L436.3,93.4 L436.8,94.5 L437.3,95.6 L437.8,96.7 L438.3,97.9 L438.8,99.1 L439.3,100.3 L439.8,101.5 L440.3,102.7 L440.8,104.0" fill="none" stroke="url(#lg21)" stroke-width="9" stroke-linejoin="round" stroke-linecap="round" filter="url(#bl1)"/>
<path d="M408.8,72.3 L409.3,70.8 L409.8,69.4 L410.3,67.9 L410.8,66.5 L411.3,65.1 L411.8,63.7 L412.3,62.3 L412.8,61.0 L413.3,59.7 L413.8,58.4 L414.3,57.2 L414.8,56.0 L415.3,54.9 L415.8,53.8 L416.3,52.7 L416.8,51.7 L417.3,50.8 L417.8,49.9 L418.3,49.1 L418.8,48.3 L419.3,47.7 L419.8,47.1 L420.3,46.6 L420.8,46.2 L421.3,45.8 L421.8,45.6 L422.3,45.4 L422.8,45.4 L423.3,45.4 L423.8,45.6 L424.3,45.8 L424.8,46.2 L425.3,46.6 L425.8,47.1 L426.3,47.7 L426.8,48.3 L427.3,49.1 L427.8,49.9 L428.3,50.8 L428.8,51.7 L429.3,52.7 L429.8,53.8 L430.3,54.9 L430.8,56.0 L431.3,57.2 L431.8,58.4 L432.3,59.7 L432.8,61.0 L433.3,62.3 L433.8,63.7 L434.3,65.1 L434.8,66.5 L435.3,67.9 L435.8,69.4 L436.3,70.8 L436.8,72.3" fill="none" stroke="url(#lg22)" stroke-width="6" stroke-linejoin="round" stroke-linecap="round" filter="url(#bl4)"/>
<ellipse cx="422.8" cy="45.4" rx="8" ry="5.5" fill="#000" opacity="1.0" filter="url(#bl5)"/>
<path d="M396.8,117.5 L397.3,115.9 L397.8,114.3 L398.3,112.8 L398.8,111.2 L399.3,109.7 L399.8,108.1 L400.3,106.6 L400.8,105.1 L401.3,103.5 L401.8,102.0 L402.3,100.6 L402.8,99.1 L403.3,97.6 L403.7,96.1 L404.2,94.7 L404.7,93.3 L405.2,91.9 L405.7,90.5 L406.2,89.1 L406.7,87.7 L407.2,86.4 L407.7,85.0 L408.2,83.7 L408.7,82.4 L409.2,81.2 L409.7,79.9 L410.2,78.7 L410.7,77.5 L411.2,76.3 L411.7,75.2 L412.2,74.1 L412.7,73.0 L413.2,71.9 L413.7,70.9 L414.2,70.0 L414.7,69.0 L415.2,68.1 L415.7,67.3 L416.2,66.5 L416.6,65.7 L417.1,65.0 L417.6,64.4 L418.1,63.8 L418.6,63.2 L419.1,62.7 L419.6,62.3 L420.1,61.9 L420.6,61.6 L421.1,61.4 L421.6,61.2 L422.1,61.1 L422.6,61.0 L423.1,61.0" fill="none" stroke="url(#lg23)" stroke-width="4.5" stroke-linejoin="round" stroke-linecap="round" filter="url(#bl6)"/>
<path d="M422.5,61.0 L423.0,61.0 L423.5,61.1 L424.0,61.2 L424.5,61.4 L425.0,61.6 L425.5,61.9 L426.0,62.3 L426.5,62.7 L427.0,63.2 L427.5,63.8 L428.0,64.4 L428.5,65.0 L429.0,65.7 L429.4,66.5 L429.9,67.3 L430.4,68.1 L430.9,69.0 L431.4,70.0 L431.9,70.9 L432.4,71.9 L432.9,73.0 L433.4,74.1 L433.9,75.2 L434.4,76.3 L434.9,77.5 L435.4,78.7 L435.9,79.9 L436.4,81.2 L436.9,82.4 L437.4,83.7 L437.9,85.0 L438.4,86.4 L438.9,87.7 L439.4,89.1 L439.9,90.5 L440.4,91.9 L440.9,93.3 L441.4,94.7 L441.9,96.1 L442.3,97.6 L442.8,99.1 L443.3,100.6 L443.8,102.0 L444.3,103.5 L444.8,105.1 L445.3,106.6 L445.8,108.1 L446.3,109.7 L446.8,111.2 L447.3,112.8 L447.8,114.3 L448.3,115.9 L448.8,117.5" fill="none" stroke="url(#lg24)" stroke-width="4.5" stroke-linejoin="round" stroke-linecap="round" filter="url(#bl6)"/>
<ellipse cx="422.8" cy="61.0" rx="5" ry="6.5" fill="#fff" opacity="1.0" filter="url(#bl3)"/>
<path d="M415.8,67.1 L416.3,66.3 L416.8,65.5 L417.3,64.8 L417.8,64.2 L418.3,63.6 L418.8,63.1 L419.3,62.6 L419.8,62.2 L420.3,61.8 L420.8,61.5 L421.3,61.3 L421.8,61.1 L422.3,61.0 L422.8,61.0 L423.3,61.0 L423.8,61.1 L424.3,61.3 L424.8,61.5 L425.3,61.8 L425.8,62.2 L426.3,62.6 L426.8,63.1 L427.3,63.6 L427.8,64.2 L428.3,64.8 L428.8,65.5 L429.3,66.3 L429.8,67.1" fill="none" stroke="url(#lg25)" stroke-width="5.5" stroke-linejoin="round" stroke-linecap="round" filter="url(#bl7)"/>
<path d="M469.0,116.3 L469.5,114.8 L470.0,113.3 L470.5,111.8 L471.0,110.4 L471.5,109.0 L472.0,107.6 L472.5,106.2 L473.0,104.9 L473.5,103.6 L474.0,102.3 L474.5,101.0 L475.0,99.8 L475.5,98.6 L476.0,97.5 L476.5,96.4 L477.0,95.3 L477.5,94.3 L478.0,93.3 L478.5,92.3 L479.0,91.4 L479.5,90.6 L480.0,89.7 L480.5,89.0 L481.0,88.3 L481.5,87.6 L482.0,87.0 L482.5,86.4 L483.0,85.9 L483.5,85.5 L484.0,85.1 L484.5,84.8 L485.0,84.5 L485.5,84.3 L486.0,84.1 L486.5,84.0 L487.0,84.0 L487.5,84.0 L488.0,84.1 L488.5,84.3 L489.0,84.5 L489.5,84.8 L490.0,85.1 L490.5,85.5 L491.0,85.9 L491.5,86.4 L492.0,87.0 L492.5,87.6 L493.0,88.3 L493.5,89.0 L494.0,89.7 L494.5,90.6 L495.0,91.4 L495.5,92.3 L496.0,93.3 L496.5,94.3 L497.0,95.3 L497.5,96.4 L498.0,97.5 L498.5,98.6 L499.0,99.8 L499.5,101.0 L500.0,102.3 L500.5,103.6 L501.0,104.9 L501.5,106.2 L502.0,107.6 L502.5,109.0 L503.0,110.4 L503.5,111.8 L504.0,113.3 L504.5,114.8 L505.0,116.3" fill="none" stroke="url(#lg26)" stroke-width="9" stroke-linejoin="round" stroke-linecap="round" filter="url(#bl1)"/>
<path d="M473.0,83.9 L473.5,82.2 L474.0,80.6 L474.5,78.9 L475.0,77.3 L475.5,75.7 L476.0,74.1 L476.5,72.6 L477.0,71.1 L477.5,69.6 L478.0,68.2 L478.5,66.8 L479.0,65.5 L479.5,64.2 L480.0,63.0 L480.5,61.8 L481.0,60.7 L481.5,59.6 L482.0,58.7 L482.5,57.8 L483.0,56.9 L483.5,56.2 L484.0,55.5 L484.5,55.0 L485.0,54.5 L485.5,54.2 L486.0,53.9 L486.5,53.8 L487.0,53.7 L487.5,53.8 L488.0,53.9 L488.5,54.2 L489.0,54.5 L489.5,55.0 L490.0,55.5 L490.5,56.2 L491.0,56.9 L491.5,57.8 L492.0,58.7 L492.5,59.6 L493.0,60.7 L493.5,61.8 L494.0,63.0 L494.5,64.2 L495.0,65.5 L495.5,66.8 L496.0,68.2 L496.5,69.6 L497.0,71.1 L497.5,72.6 L498.0,74.1 L498.5,75.7 L499.0,77.3 L499.5,78.9 L500.0,80.6 L500.5,82.2 L501.0,83.9" fill="none" stroke="url(#lg27)" stroke-width="6" stroke-linejoin="round" stroke-linecap="round" filter="url(#bl4)"/>
<ellipse cx="487.0" cy="53.7" rx="5" ry="6" fill="#000" opacity="0.95" filter="url(#bl5)"/>
<path d="M463.0,127.8 L463.5,126.0 L464.0,124.2 L464.5,122.4 L465.0,120.7 L465.5,118.9 L466.0,117.2 L466.5,115.4 L467.0,113.7 L467.5,112.0 L468.0,110.3 L468.5,108.6 L469.0,106.9 L469.4,105.3 L469.9,103.7 L470.4,102.1 L470.9,100.5 L471.4,98.9 L471.9,97.3 L472.4,95.8 L472.9,94.3 L473.4,92.8 L473.9,91.4 L474.4,90.0 L474.9,88.6 L475.4,87.2 L475.9,85.9 L476.4,84.6 L476.9,83.3 L477.4,82.1 L477.9,81.0 L478.4,79.8 L478.9,78.7 L479.4,77.7 L479.9,76.7 L480.4,75.8 L480.9,74.9 L481.3,74.1 L481.8,73.3 L482.3,72.6 L482.8,72.0 L483.3,71.4 L483.8,70.9 L484.3,70.5 L484.8,70.1 L485.3,69.8 L485.8,69.6 L486.3,69.5 L486.8,69.4 L487.3,69.4" fill="none" stroke="url(#lg28)" stroke-width="4.5" stroke-linejoin="round" stroke-linecap="round" filter="url(#bl6)"/>
<path d="M486.7,69.4 L487.2,69.4 L487.7,69.5 L488.2,69.6 L488.7,69.8 L489.2,70.1 L489.7,70.5 L490.2,70.9 L490.7,71.4 L491.2,72.0 L491.7,72.6 L492.2,73.3 L492.7,74.1 L493.1,74.9 L493.6,75.8 L494.1,76.7 L494.6,77.7 L495.1,78.7 L495.6,79.8 L496.1,81.0 L496.6,82.1 L497.1,83.3 L497.6,84.6 L498.1,85.9 L498.6,87.2 L499.1,88.6 L499.6,90.0 L500.1,91.4 L500.6,92.8 L501.1,94.3 L501.6,95.8 L502.1,97.3 L502.6,98.9 L503.1,100.5 L503.6,102.1 L504.1,103.7 L504.6,105.3 L505.0,106.9 L505.5,108.6 L506.0,110.3 L506.5,112.0 L507.0,113.7 L507.5,115.4 L508.0,117.2 L508.5,118.9 L509.0,120.7 L509.5,122.4 L510.0,124.2 L510.5,126.0 L511.0,127.8" fill="none" stroke="url(#lg29)" stroke-width="4.5" stroke-linejoin="round" stroke-linecap="round" filter="url(#bl6)"/>
<ellipse cx="487.0" cy="69.4" rx="5" ry="6.5" fill="#fff" opacity="1.0" filter="url(#bl3)"/>
<path d="M480.0,76.5 L480.5,75.5 L481.0,74.7 L481.5,73.8 L482.0,73.1 L482.5,72.4 L483.0,71.8 L483.5,71.2 L484.0,70.8 L484.5,70.3 L485.0,70.0 L485.5,69.7 L486.0,69.6 L486.5,69.4 L487.0,69.4 L487.5,69.4 L488.0,69.6 L488.5,69.7 L489.0,70.0 L489.5,70.3 L490.0,70.8 L490.5,71.2 L491.0,71.8 L491.5,72.4 L492.0,73.1 L492.5,73.8 L493.0,74.7 L493.5,75.5 L494.0,76.5" fill="none" stroke="url(#lg30)" stroke-width="5.5" stroke-linejoin="round" stroke-linecap="round" filter="url(#bl7)"/>
<text x="355.20" y="102.30" font-family="'Liberation Serif', 'Times New Roman', serif" font-size="18.5" font-weight="bold" fill="#fff" textLength="17.20" lengthAdjust="spacingAndGlyphs" filter="url(#bl8)"><tspan font-size="15.5">#</tspan>4</text>
<text x="415.70" y="104.00" font-family="'Liberation Serif', 'Times New Roman', serif" font-size="18.5" font-weight="bold" fill="#fff" textLength="15.80" lengthAdjust="spacingAndGlyphs" filter="url(#bl8)"><tspan font-size="15.5">#</tspan>5</text>
<text x="476.10" y="103.70" font-family="'Liberation Serif', 'Times New Roman', serif" font-size="18.5" font-weight="bold" fill="#fff" textLength="16.70" lengthAdjust="spacingAndGlyphs" filter="url(#bl8)"><tspan font-size="15.5">#</tspan>6</text>
</g>
<path d="M316.40,112.90v-2.6M316.40,11.65v2.6M371.07,112.90v-2.6M371.07,11.65v2.6M425.75,112.90v-2.6M425.75,11.65v2.6M480.43,112.90v-2.6M480.43,11.65v2.6M535.10,112.90v-2.6M535.10,11.65v2.6M316.40,11.65h2.6M535.10,11.65h-2.6M316.40,45.40h2.6M535.10,45.40h-2.6M316.40,79.15h2.6M535.10,79.15h-2.6M316.40,112.90h2.6M535.10,112.90h-2.6" stroke="#000" stroke-width="1" fill="none"/>
<rect x="316.4" y="11.65" width="218.70" height="101.25" fill="none" stroke="#000" stroke-width="1.3"/>
<text transform="translate(312.80,15.75) scale(1,1.07)" x="0" y="0" font-family="'Liberation Sans', Arial, Helvetica, sans-serif" font-size="11.4" text-anchor="end" fill="#000" font-weight="normal" stroke="#000" stroke-width="0.25" >0</text>
<text transform="translate(312.80,49.50) scale(1,1.07)" x="0" y="0" font-family="'Liberation Sans', Arial, Helvetica, sans-serif" font-size="11.4" text-anchor="end" fill="#000" font-weight="normal" stroke="#000" stroke-width="0.25" >1</text>
<rect x="305.80" y="48.05" width="3.00" height="2.6" fill="#fff"/>
<rect x="310.25" y="48.05" width="3.20" height="2.6" fill="#fff"/>
<text transform="translate(312.80,83.25) scale(1,1.07)" x="0" y="0" font-family="'Liberation Sans', Arial, Helvetica, sans-serif" font-size="11.4" text-anchor="end" fill="#000" font-weight="normal" stroke="#000" stroke-width="0.25" >2</text>
<text transform="translate(312.80,117.00) scale(1,1.07)" x="0" y="0" font-family="'Liberation Sans', Arial, Helvetica, sans-serif" font-size="11.4" text-anchor="end" fill="#000" font-weight="normal" stroke="#000" stroke-width="0.25" >3</text>
<text transform="translate(316.40,126.50) scale(1,1.07)" x="0" y="0" font-family="'Liberation Sans', Arial, Helvetica, sans-serif" font-size="11.4" text-anchor="middle" fill="#000" font-weight="normal" stroke="#000" stroke-width="0.25" >0</text>
<text transform="translate(371.07,126.50) scale(1,1.07)" x="0" y="0" font-family="'Liberation Sans', Arial, Helvetica, sans-serif" font-size="11.4" text-anchor="middle" fill="#000" font-weight="normal" textLength="16.4" lengthAdjust="spacingAndGlyphs" stroke="#000" stroke-width="0.25" >0.2</text>
<text transform="translate(425.75,126.50) scale(1,1.07)" x="0" y="0" font-family="'Liberation Sans', Arial, Helvetica, sans-serif" font-size="11.4" text-anchor="middle" fill="#000" font-weight="normal" textLength="16.4" lengthAdjust="spacingAndGlyphs" stroke="#000" stroke-width="0.25" >0.4</text>
<text transform="translate(480.43,126.50) scale(1,1.07)" x="0" y="0" font-family="'Liberation Sans', Arial, Helvetica, sans-serif" font-size="11.4" text-anchor="middle" fill="#000" font-weight="normal" textLength="16.4" lengthAdjust="spacingAndGlyphs" stroke="#000" stroke-width="0.25" >0.6</text>
<text transform="translate(535.10,126.50) scale(1,1.07)" x="0" y="0" font-family="'Liberation Sans', Arial, Helvetica, sans-serif" font-size="11.4" text-anchor="middle" fill="#000" font-weight="normal" textLength="16.4" lengthAdjust="spacingAndGlyphs" stroke="#000" stroke-width="0.25" >0.8</text>
<text transform="translate(424.85,141.30) scale(1,1.07)" x="0" y="0" font-family="'Liberation Sans', Arial, Helvetica, sans-serif" font-size="11.4" text-anchor="middle" fill="#000" font-weight="normal" textLength="69" lengthAdjust="spacingAndGlyphs" stroke="#000" stroke-width="0.25" >Distance [m]</text>
<g transform="translate(299.20,61.77) rotate(-90)"><text transform="translate(0.00,0.00) scale(1,1.07)" x="0" y="0" font-family="'Liberation Sans', Arial, Helvetica, sans-serif" font-size="11.4" text-anchor="middle" fill="#000" font-weight="normal" textLength="52" lengthAdjust="spacingAndGlyphs" stroke="#000" stroke-width="0.25" >Time [ns]</text></g>
<text x="418.70" y="158.30" font-family="'Liberation Serif', 'Times New Roman', serif" font-size="16.5" text-anchor="middle" fill="#000" font-weight="normal" textLength="19.900000000000002" lengthAdjust="spacingAndGlyphs" >(b)</text>
<g clip-path="url(#clipc)">
<rect x="37.4" y="171.5" width="218.30" height="100.60" fill="#7a7a7a"/>
<rect x="141.0" y="175.0" width="45.0" height="12.0" fill="#000" opacity="0.2" filter="url(#bl2)"/>
<ellipse cx="108.0" cy="181.5" rx="4.2" ry="4.2" fill="#000" opacity="0.45" filter="url(#bl6)"/>
<ellipse cx="106.0" cy="196.0" rx="5" ry="7" fill="#fff" opacity="0.25" filter="url(#bl2)"/>
<ellipse cx="130.0" cy="201.0" rx="5" ry="5" fill="#fff" opacity="0.12" filter="url(#bl2)"/>
<rect x="37.0" y="186.0" width="100.0" height="8.0" fill="#fff" opacity="0.08" filter="url(#bl1)"/>
<rect x="140.0" y="189.0" width="116.0" height="9.0" fill="#fff" opacity="0.07" filter="url(#bl1)"/>
<rect x="36.0" y="171.0" width="6.0" height="102.0" fill="#000" opacity="0.1" filter="url(#bl6)"/>
<path d="M45.0,222.0 L61.0,204.0" stroke="#000" stroke-opacity="0.15" stroke-width="4" stroke-linecap="round" filter="url(#bl6)"/>
<path d="M61.0,204.0 L74.0,220.0" stroke="#000" stroke-opacity="0.15" stroke-width="4" stroke-linecap="round" filter="url(#bl6)"/>
<path d="M172.0,225.0 L184.5,204.0" stroke="#000" stroke-opacity="0.18" stroke-width="4" stroke-linecap="round" filter="url(#bl6)"/>
<path d="M184.5,204.0 L197.0,225.0" stroke="#000" stroke-opacity="0.18" stroke-width="4" stroke-linecap="round" filter="url(#bl6)"/>
<path d="M212.0,232.0 L230.5,197.0" stroke="#fff" stroke-opacity="0.19" stroke-width="4" stroke-linecap="round" filter="url(#bl3)"/>
<path d="M230.5,197.0 L248.0,228.0" stroke="#fff" stroke-opacity="0.19" stroke-width="4" stroke-linecap="round" filter="url(#bl3)"/>
<ellipse cx="228.0" cy="222.0" rx="7" ry="12" fill="#000" opacity="0.1" filter="url(#bl1)"/>
<path d="M66.0,264.9 L66.5,263.6 L67.0,262.3 L67.5,261.0 L68.0,259.8 L68.5,258.6 L69.0,257.4 L69.5,256.2 L70.0,255.0 L70.5,253.9 L71.0,252.8 L71.5,251.7 L72.0,250.6 L72.5,249.6 L73.0,248.6 L73.5,247.7 L74.0,246.7 L74.5,245.8 L75.0,245.0 L75.5,244.2 L76.0,243.4 L76.5,242.6 L77.0,241.9 L77.5,241.3 L78.0,240.7 L78.5,240.1 L79.0,239.6 L79.5,239.1 L80.0,238.7 L80.5,238.3 L81.0,237.9 L81.5,237.6 L82.0,237.4 L82.5,237.2 L83.0,237.1 L83.5,237.0 L84.0,237.0 L84.5,237.0 L85.0,237.1 L85.5,237.2 L86.0,237.4 L86.5,237.6 L87.0,237.9 L87.5,238.3 L88.0,238.7 L88.5,239.1 L89.0,239.6 L89.5,240.1 L90.0,240.7 L90.5,241.3 L91.0,241.9 L91.5,242.6 L92.0,243.4 L92.5,244.2 L93.0,245.0 L93.5,245.8 L94.0,246.7 L94.5,247.7 L95.0,248.6 L95.5,249.6 L96.0,250.6 L96.5,251.7 L97.0,252.8 L97.5,253.9 L98.0,255.0 L98.5,256.2 L99.0,257.4 L99.5,258.6 L100.0,259.8 L100.5,261.0 L101.0,262.3 L101.5,263.6 L102.0,264.9" fill="none" stroke="url(#lg31)" stroke-width="9" stroke-linejoin="round" stroke-linecap="round" filter="url(#bl1)"/>
<path d="M70.0,233.7 L70.5,232.2 L71.0,230.7 L71.5,229.2 L72.0,227.7 L72.5,226.3 L73.0,224.9 L73.5,223.5 L74.0,222.1 L74.5,220.8 L75.0,219.4 L75.5,218.2 L76.0,217.0 L76.5,215.8 L77.0,214.6 L77.5,213.6 L78.0,212.5 L78.5,211.6 L79.0,210.6 L79.5,209.8 L80.0,209.0 L80.5,208.4 L81.0,207.7 L81.5,207.2 L82.0,206.8 L82.5,206.4 L83.0,206.2 L83.5,206.0 L84.0,206.0 L84.5,206.0 L85.0,206.2 L85.5,206.4 L86.0,206.8 L86.5,207.2 L87.0,207.7 L87.5,208.4 L88.0,209.0 L88.5,209.8 L89.0,210.6 L89.5,211.6 L90.0,212.5 L90.5,213.6 L91.0,214.6 L91.5,215.8 L92.0,217.0 L92.5,218.2 L93.0,219.4 L93.5,220.8 L94.0,222.1 L94.5,223.5 L95.0,224.9 L95.5,226.3 L96.0,227.7 L96.5,229.2 L97.0,230.7 L97.5,232.2 L98.0,233.7" fill="none" stroke="url(#lg32)" stroke-width="6" stroke-linejoin="round" stroke-linecap="round" filter="url(#bl4)"/>
<ellipse cx="84.0" cy="206.0" rx="7" ry="5.5" fill="#000" opacity="1.0" filter="url(#bl5)"/>
<path d="M58.0,279.5 L58.5,277.8 L59.0,276.2 L59.5,274.6 L60.0,273.0 L60.5,271.4 L61.0,269.8 L61.5,268.2 L62.0,266.6 L62.5,265.0 L63.0,263.5 L63.5,261.9 L64.0,260.4 L64.5,258.9 L64.9,257.4 L65.4,255.9 L65.9,254.4 L66.4,252.9 L66.9,251.4 L67.4,250.0 L67.9,248.6 L68.4,247.2 L68.9,245.8 L69.4,244.4 L69.9,243.0 L70.4,241.7 L70.9,240.4 L71.4,239.1 L71.9,237.9 L72.4,236.7 L72.9,235.5 L73.4,234.3 L73.9,233.2 L74.4,232.1 L74.9,231.0 L75.4,230.0 L75.9,229.0 L76.4,228.1 L76.9,227.2 L77.4,226.3 L77.8,225.5 L78.3,224.8 L78.8,224.1 L79.3,223.4 L79.8,222.9 L80.3,222.3 L80.8,221.9 L81.3,221.5 L81.8,221.2 L82.3,220.9 L82.8,220.7 L83.3,220.6 L83.8,220.5 L84.3,220.5" fill="none" stroke="url(#lg33)" stroke-width="4.5" stroke-linejoin="round" stroke-linecap="round" filter="url(#bl6)"/>
<path d="M83.7,220.5 L84.2,220.5 L84.7,220.6 L85.2,220.7 L85.7,220.9 L86.2,221.2 L86.7,221.5 L87.2,221.9 L87.7,222.3 L88.2,222.9 L88.7,223.4 L89.2,224.1 L89.7,224.8 L90.2,225.5 L90.6,226.3 L91.1,227.2 L91.6,228.1 L92.1,229.0 L92.6,230.0 L93.1,231.0 L93.6,232.1 L94.1,233.2 L94.6,234.3 L95.1,235.5 L95.6,236.7 L96.1,237.9 L96.6,239.1 L97.1,240.4 L97.6,241.7 L98.1,243.0 L98.6,244.4 L99.1,245.8 L99.6,247.2 L100.1,248.6 L100.6,250.0 L101.1,251.4 L101.6,252.9 L102.1,254.4 L102.6,255.9 L103.1,257.4 L103.5,258.9 L104.0,260.4 L104.5,261.9 L105.0,263.5 L105.5,265.0 L106.0,266.6 L106.5,268.2 L107.0,269.8 L107.5,271.4 L108.0,273.0 L108.5,274.6 L109.0,276.2 L109.5,277.8 L110.0,279.5" fill="none" stroke="url(#lg34)" stroke-width="4.5" stroke-linejoin="round" stroke-linecap="round" filter="url(#bl6)"/>
<ellipse cx="84.0" cy="220.5" rx="5.5" ry="7" fill="#fff" opacity="1.0" filter="url(#bl3)"/>
<path d="M77.0,226.9 L77.5,226.1 L78.0,225.3 L78.5,224.6 L79.0,223.9 L79.5,223.3 L80.0,222.7 L80.5,222.2 L81.0,221.7 L81.5,221.4 L82.0,221.1 L82.5,220.8 L83.0,220.6 L83.5,220.5 L84.0,220.5 L84.5,220.5 L85.0,220.6 L85.5,220.8 L86.0,221.1 L86.5,221.4 L87.0,221.7 L87.5,222.2 L88.0,222.7 L88.5,223.3 L89.0,223.9 L89.5,224.6 L90.0,225.3 L90.5,226.1 L91.0,226.9" fill="none" stroke="url(#lg35)" stroke-width="5.5" stroke-linejoin="round" stroke-linecap="round" filter="url(#bl7)"/>
<path d="M128.8,269.7 L129.3,268.4 L129.8,267.1 L130.3,265.8 L130.8,264.6 L131.3,263.4 L131.8,262.2 L132.3,261.0 L132.8,259.8 L133.3,258.7 L133.8,257.6 L134.3,256.5 L134.8,255.5 L135.3,254.4 L135.8,253.5 L136.3,252.5 L136.8,251.6 L137.3,250.7 L137.8,249.9 L138.3,249.0 L138.8,248.3 L139.3,247.5 L139.8,246.9 L140.3,246.2 L140.8,245.6 L141.3,245.0 L141.8,244.5 L142.3,244.0 L142.8,243.6 L143.3,243.2 L143.8,242.9 L144.3,242.6 L144.8,242.4 L145.3,242.2 L145.8,242.1 L146.3,242.0 L146.8,242.0 L147.3,242.0 L147.8,242.1 L148.3,242.2 L148.8,242.4 L149.3,242.6 L149.8,242.9 L150.3,243.2 L150.8,243.6 L151.3,244.0 L151.8,244.5 L152.3,245.0 L152.8,245.6 L153.3,246.2 L153.8,246.9 L154.3,247.5 L154.8,248.3 L155.3,249.0 L155.8,249.9 L156.3,250.7 L156.8,251.6 L157.3,252.5 L157.8,253.5 L158.3,254.4 L158.8,255.5 L159.3,256.5 L159.8,257.6 L160.3,258.7 L160.8,259.8 L161.3,261.0 L161.8,262.2 L162.3,263.4 L162.8,264.6 L163.3,265.8 L163.8,267.1 L164.3,268.4 L164.8,269.7" fill="none" stroke="url(#lg36)" stroke-width="10" stroke-linejoin="round" stroke-linecap="round" filter="url(#bl1)"/>
<path d="M132.8,237.5 L133.3,235.9 L133.8,234.4 L134.3,233.0 L134.8,231.5 L135.3,230.1 L135.8,228.7 L136.3,227.3 L136.8,226.0 L137.3,224.6 L137.8,223.4 L138.3,222.1 L138.8,220.9 L139.3,219.8 L139.8,218.7 L140.3,217.7 L140.8,216.7 L141.3,215.7 L141.8,214.9 L142.3,214.1 L142.8,213.4 L143.3,212.7 L143.8,212.1 L144.3,211.6 L144.8,211.2 L145.3,210.9 L145.8,210.7 L146.3,210.5 L146.8,210.5 L147.3,210.5 L147.8,210.7 L148.3,210.9 L148.8,211.2 L149.3,211.6 L149.8,212.1 L150.3,212.7 L150.8,213.4 L151.3,214.1 L151.8,214.9 L152.3,215.7 L152.8,216.7 L153.3,217.7 L153.8,218.7 L154.3,219.8 L154.8,220.9 L155.3,222.1 L155.8,223.4 L156.3,224.6 L156.8,226.0 L157.3,227.3 L157.8,228.7 L158.3,230.1 L158.8,231.5 L159.3,233.0 L159.8,234.4 L160.3,235.9 L160.8,237.5" fill="none" stroke="url(#lg37)" stroke-width="6" stroke-linejoin="round" stroke-linecap="round" filter="url(#bl4)"/>
<ellipse cx="146.8" cy="210.5" rx="8.5" ry="6.5" fill="#000" opacity="0.95" filter="url(#bl9)"/>
<path d="M120.8,284.8 L121.3,283.2 L121.8,281.5 L122.3,279.9 L122.8,278.3 L123.3,276.7 L123.8,275.1 L124.3,273.5 L124.8,271.9 L125.3,270.4 L125.8,268.8 L126.3,267.3 L126.8,265.7 L127.3,264.2 L127.7,262.7 L128.2,261.2 L128.7,259.8 L129.2,258.3 L129.7,256.9 L130.2,255.4 L130.7,254.0 L131.2,252.6 L131.7,251.3 L132.2,249.9 L132.7,248.6 L133.2,247.3 L133.7,246.0 L134.2,244.8 L134.7,243.6 L135.2,242.4 L135.7,241.2 L136.2,240.1 L136.7,239.0 L137.2,238.0 L137.7,236.9 L138.2,236.0 L138.7,235.0 L139.2,234.1 L139.7,233.3 L140.2,232.5 L140.6,231.7 L141.1,231.0 L141.6,230.4 L142.1,229.8 L142.6,229.2 L143.1,228.7 L143.6,228.3 L144.1,227.9 L144.6,227.6 L145.1,227.4 L145.6,227.2 L146.1,227.1 L146.6,227.0 L147.1,227.0" fill="none" stroke="url(#lg38)" stroke-width="4.5" stroke-linejoin="round" stroke-linecap="round" filter="url(#bl6)"/>
<path d="M146.5,227.0 L147.0,227.0 L147.5,227.1 L148.0,227.2 L148.5,227.4 L149.0,227.6 L149.5,227.9 L150.0,228.3 L150.5,228.7 L151.0,229.2 L151.5,229.8 L152.0,230.4 L152.5,231.0 L153.0,231.7 L153.4,232.5 L153.9,233.3 L154.4,234.1 L154.9,235.0 L155.4,236.0 L155.9,236.9 L156.4,238.0 L156.9,239.0 L157.4,240.1 L157.9,241.2 L158.4,242.4 L158.9,243.6 L159.4,244.8 L159.9,246.0 L160.4,247.3 L160.9,248.6 L161.4,249.9 L161.9,251.3 L162.4,252.6 L162.9,254.0 L163.4,255.4 L163.9,256.9 L164.4,258.3 L164.9,259.8 L165.4,261.2 L165.9,262.7 L166.3,264.2 L166.8,265.7 L167.3,267.3 L167.8,268.8 L168.3,270.4 L168.8,271.9 L169.3,273.5 L169.8,275.1 L170.3,276.7 L170.8,278.3 L171.3,279.9 L171.8,281.5 L172.3,283.2 L172.8,284.8" fill="none" stroke="url(#lg39)" stroke-width="4.5" stroke-linejoin="round" stroke-linecap="round" filter="url(#bl6)"/>
<ellipse cx="146.8" cy="227.0" rx="6" ry="7" fill="#fff" opacity="1.0" filter="url(#bl3)"/>
<path d="M139.8,233.0 L140.3,232.2 L140.8,231.5 L141.3,230.8 L141.8,230.2 L142.3,229.6 L142.8,229.0 L143.3,228.6 L143.8,228.2 L144.3,227.8 L144.8,227.5 L145.3,227.3 L145.8,227.1 L146.3,227.0 L146.8,227.0 L147.3,227.0 L147.8,227.1 L148.3,227.3 L148.8,227.5 L149.3,227.8 L149.8,228.2 L150.3,228.6 L150.8,229.0 L151.3,229.6 L151.8,230.2 L152.3,230.8 L152.8,231.5 L153.3,232.2 L153.8,233.0" fill="none" stroke="url(#lg40)" stroke-width="5.5" stroke-linejoin="round" stroke-linecap="round" filter="url(#bl7)"/>
<path d="M190.0,272.6 L190.5,271.4 L191.0,270.1 L191.5,268.9 L192.0,267.7 L192.5,266.5 L193.0,265.3 L193.5,264.2 L194.0,263.0 L194.5,262.0 L195.0,260.9 L195.5,259.9 L196.0,258.8 L196.5,257.9 L197.0,256.9 L197.5,256.0 L198.0,255.1 L198.5,254.3 L199.0,253.5 L199.5,252.7 L200.0,252.0 L200.5,251.3 L201.0,250.6 L201.5,250.0 L202.0,249.4 L202.5,248.9 L203.0,248.4 L203.5,247.9 L204.0,247.5 L204.5,247.2 L205.0,246.9 L205.5,246.6 L206.0,246.4 L206.5,246.2 L207.0,246.1 L207.5,246.0 L208.0,246.0 L208.5,246.0 L209.0,246.1 L209.5,246.2 L210.0,246.4 L210.5,246.6 L211.0,246.9 L211.5,247.2 L212.0,247.5 L212.5,247.9 L213.0,248.4 L213.5,248.9 L214.0,249.4 L214.5,250.0 L215.0,250.6 L215.5,251.3 L216.0,252.0 L216.5,252.7 L217.0,253.5 L217.5,254.3 L218.0,255.1 L218.5,256.0 L219.0,256.9 L219.5,257.9 L220.0,258.8 L220.5,259.9 L221.0,260.9 L221.5,262.0 L222.0,263.0 L222.5,264.2 L223.0,265.3 L223.5,266.5 L224.0,267.7 L224.5,268.9 L225.0,270.1 L225.5,271.4 L226.0,272.6" fill="none" stroke="url(#lg41)" stroke-width="9" stroke-linejoin="round" stroke-linecap="round" filter="url(#bl1)"/>
<path d="M194.0,241.7 L194.5,240.3 L195.0,238.9 L195.5,237.5 L196.0,236.1 L196.5,234.8 L197.0,233.5 L197.5,232.2 L198.0,231.0 L198.5,229.8 L199.0,228.7 L199.5,227.5 L200.0,226.5 L200.5,225.4 L201.0,224.5 L201.5,223.5 L202.0,222.7 L202.5,221.8 L203.0,221.1 L203.5,220.4 L204.0,219.8 L204.5,219.2 L205.0,218.7 L205.5,218.3 L206.0,217.9 L206.5,217.7 L207.0,217.5 L207.5,217.3 L208.0,217.3 L208.5,217.3 L209.0,217.5 L209.5,217.7 L210.0,217.9 L210.5,218.3 L211.0,218.7 L211.5,219.2 L212.0,219.8 L212.5,220.4 L213.0,221.1 L213.5,221.8 L214.0,222.7 L214.5,223.5 L215.0,224.5 L215.5,225.4 L216.0,226.5 L216.5,227.5 L217.0,228.7 L217.5,229.8 L218.0,231.0 L218.5,232.2 L219.0,233.5 L219.5,234.8 L220.0,236.1 L220.5,237.5 L221.0,238.9 L221.5,240.3 L222.0,241.7" fill="none" stroke="url(#lg42)" stroke-width="6" stroke-linejoin="round" stroke-linecap="round" filter="url(#bl4)"/>
<ellipse cx="208.0" cy="217.3" rx="5" ry="5" fill="#000" opacity="0.95" filter="url(#bl5)"/>
<path d="M182.0,287.6 L182.5,286.0 L183.0,284.4 L183.5,282.8 L184.0,281.3 L184.5,279.7 L185.0,278.2 L185.5,276.6 L186.0,275.1 L186.5,273.6 L187.0,272.1 L187.5,270.6 L188.0,269.1 L188.5,267.6 L188.9,266.2 L189.4,264.7 L189.9,263.3 L190.4,261.9 L190.9,260.5 L191.4,259.2 L191.9,257.8 L192.4,256.5 L192.9,255.2 L193.4,253.9 L193.9,252.7 L194.4,251.4 L194.9,250.2 L195.4,249.1 L195.9,247.9 L196.4,246.8 L196.9,245.7 L197.4,244.6 L197.9,243.6 L198.4,242.6 L198.9,241.7 L199.4,240.8 L199.9,239.9 L200.4,239.1 L200.9,238.3 L201.4,237.5 L201.8,236.8 L202.3,236.2 L202.8,235.6 L203.3,235.0 L203.8,234.5 L204.3,234.1 L204.8,233.7 L205.3,233.3 L205.8,233.1 L206.3,232.8 L206.8,232.7 L207.3,232.6 L207.8,232.5 L208.3,232.5" fill="none" stroke="url(#lg43)" stroke-width="4.5" stroke-linejoin="round" stroke-linecap="round" filter="url(#bl6)"/>
<path d="M207.7,232.5 L208.2,232.5 L208.7,232.6 L209.2,232.7 L209.7,232.8 L210.2,233.1 L210.7,233.3 L211.2,233.7 L211.7,234.1 L212.2,234.5 L212.7,235.0 L213.2,235.6 L213.7,236.2 L214.2,236.8 L214.6,237.5 L215.1,238.3 L215.6,239.1 L216.1,239.9 L216.6,240.8 L217.1,241.7 L217.6,242.6 L218.1,243.6 L218.6,244.6 L219.1,245.7 L219.6,246.8 L220.1,247.9 L220.6,249.1 L221.1,250.2 L221.6,251.4 L222.1,252.7 L222.6,253.9 L223.1,255.2 L223.6,256.5 L224.1,257.8 L224.6,259.2 L225.1,260.5 L225.6,261.9 L226.1,263.3 L226.6,264.7 L227.1,266.2 L227.5,267.6 L228.0,269.1 L228.5,270.6 L229.0,272.1 L229.5,273.6 L230.0,275.1 L230.5,276.6 L231.0,278.2 L231.5,279.7 L232.0,281.3 L232.5,282.8 L233.0,284.4 L233.5,286.0 L234.0,287.6" fill="none" stroke="url(#lg44)" stroke-width="4.5" stroke-linejoin="round" stroke-linecap="round" filter="url(#bl6)"/>
<ellipse cx="208.0" cy="232.5" rx="5" ry="6.5" fill="#fff" opacity="0.75" filter="url(#bl3)"/>
<path d="M201.0,238.0 L201.5,237.3 L202.0,236.6 L202.5,236.0 L203.0,235.4 L203.5,234.9 L204.0,234.4 L204.5,233.9 L205.0,233.6 L205.5,233.2 L206.0,233.0 L206.5,232.8 L207.0,232.6 L207.5,232.5 L208.0,232.5 L208.5,232.5 L209.0,232.6 L209.5,232.8 L210.0,233.0 L210.5,233.2 L211.0,233.6 L211.5,233.9 L212.0,234.4 L212.5,234.9 L213.0,235.4 L213.5,236.0 L214.0,236.6 L214.5,237.3 L215.0,238.0" fill="none" stroke="url(#lg45)" stroke-width="5.5" stroke-linejoin="round" stroke-linecap="round" filter="url(#bl7)"/>
<text x="73.90" y="263.30" font-family="'Liberation Serif', 'Times New Roman', serif" font-size="18.5" font-weight="bold" fill="#fff" textLength="15.80" lengthAdjust="spacingAndGlyphs" filter="url(#bl8)"><tspan font-size="15.5">#</tspan>7</text>
<text x="135.20" y="263.30" font-family="'Liberation Serif', 'Times New Roman', serif" font-size="18.5" font-weight="bold" fill="#fff" textLength="16.30" lengthAdjust="spacingAndGlyphs" filter="url(#bl8)"><tspan font-size="15.5">#</tspan>8</text>
<text x="195.70" y="263.80" font-family="'Liberation Serif', 'Times New Roman', serif" font-size="18.5" font-weight="bold" fill="#fff" textLength="17.10" lengthAdjust="spacingAndGlyphs" filter="url(#bl8)"><tspan font-size="15.5">#</tspan>9</text>
</g>
<path d="M37.40,272.10v-2.6M37.40,171.50v2.6M91.97,272.10v-2.6M91.97,171.50v2.6M146.55,272.10v-2.6M146.55,171.50v2.6M201.12,272.10v-2.6M201.12,171.50v2.6M255.70,272.10v-2.6M255.70,171.50v2.6M37.40,171.50h2.6M255.70,171.50h-2.6M37.40,205.03h2.6M255.70,205.03h-2.6M37.40,238.57h2.6M255.70,238.57h-2.6M37.40,272.10h2.6M255.70,272.10h-2.6" stroke="#000" stroke-width="1" fill="none"/>
<rect x="37.4" y="171.5" width="218.30" height="100.60" fill="none" stroke="#000" stroke-width="1.3"/>
<text transform="translate(33.80,175.60) scale(1,1.07)" x="0" y="0" font-family="'Liberation Sans', Arial, Helvetica, sans-serif" font-size="11.4" text-anchor="end" fill="#000" font-weight="normal" stroke="#000" stroke-width="0.25" >0</text>
<text transform="translate(33.80,209.13) scale(1,1.07)" x="0" y="0" font-family="'Liberation Sans', Arial, Helvetica, sans-serif" font-size="11.4" text-anchor="end" fill="#000" font-weight="normal" stroke="#000" stroke-width="0.25" >1</text>
<rect x="26.80" y="207.68" width="3.00" height="2.6" fill="#fff"/>
<rect x="31.25" y="207.68" width="3.20" height="2.6" fill="#fff"/>
<text transform="translate(33.80,242.67) scale(1,1.07)" x="0" y="0" font-family="'Liberation Sans', Arial, Helvetica, sans-serif" font-size="11.4" text-anchor="end" fill="#000" font-weight="normal" stroke="#000" stroke-width="0.25" >2</text>
<text transform="translate(33.80,276.20) scale(1,1.07)" x="0" y="0" font-family="'Liberation Sans', Arial, Helvetica, sans-serif" font-size="11.4" text-anchor="end" fill="#000" font-weight="normal" stroke="#000" stroke-width="0.25" >3</text>
<text transform="translate(37.40,285.70) scale(1,1.07)" x="0" y="0" font-family="'Liberation Sans', Arial, Helvetica, sans-serif" font-size="11.4" text-anchor="middle" fill="#000" font-weight="normal" stroke="#000" stroke-width="0.25" >0</text>
<text transform="translate(91.97,285.70) scale(1,1.07)" x="0" y="0" font-family="'Liberation Sans', Arial, Helvetica, sans-serif" font-size="11.4" text-anchor="middle" fill="#000" font-weight="normal" textLength="16.4" lengthAdjust="spacingAndGlyphs" stroke="#000" stroke-width="0.25" >0.2</text>
<text transform="translate(146.55,285.70) scale(1,1.07)" x="0" y="0" font-family="'Liberation Sans', Arial, Helvetica, sans-serif" font-size="11.4" text-anchor="middle" fill="#000" font-weight="normal" textLength="16.4" lengthAdjust="spacingAndGlyphs" stroke="#000" stroke-width="0.25" >0.4</text>
<text transform="translate(201.12,285.70) scale(1,1.07)" x="0" y="0" font-family="'Liberation Sans', Arial, Helvetica, sans-serif" font-size="11.4" text-anchor="middle" fill="#000" font-weight="normal" textLength="16.4" lengthAdjust="spacingAndGlyphs" stroke="#000" stroke-width="0.25" >0.6</text>
<text transform="translate(255.70,285.70) scale(1,1.07)" x="0" y="0" font-family="'Liberation Sans', Arial, Helvetica, sans-serif" font-size="11.4" text-anchor="middle" fill="#000" font-weight="normal" textLength="16.4" lengthAdjust="spacingAndGlyphs" stroke="#000" stroke-width="0.25" >0.8</text>
<text transform="translate(145.65,300.50) scale(1,1.07)" x="0" y="0" font-family="'Liberation Sans', Arial, Helvetica, sans-serif" font-size="11.4" text-anchor="middle" fill="#000" font-weight="normal" textLength="69" lengthAdjust="spacingAndGlyphs" stroke="#000" stroke-width="0.25" >Distance [m]</text>
<g transform="translate(20.20,221.30) rotate(-90)"><text transform="translate(0.00,0.00) scale(1,1.07)" x="0" y="0" font-family="'Liberation Sans', Arial, Helvetica, sans-serif" font-size="11.4" text-anchor="middle" fill="#000" font-weight="normal" textLength="52" lengthAdjust="spacingAndGlyphs" stroke="#000" stroke-width="0.25" >Time [ns]</text></g>
<text x="140.10" y="325.40" font-family="'Liberation Serif', 'Times New Roman', serif" font-size="16.5" text-anchor="middle" fill="#000" font-weight="normal" textLength="18.5" lengthAdjust="spacingAndGlyphs" >(c)</text>
<g clip-path="url(#clipd)">
<rect x="316.4" y="173.45" width="218.70" height="101.15" fill="#7a7a7a"/>
<ellipse cx="322.0" cy="218.0" rx="6" ry="18" fill="#fff" opacity="0.16" filter="url(#bl1)"/>
<ellipse cx="376.0" cy="195.0" rx="6" ry="6" fill="#000" opacity="0.12" filter="url(#bl1)"/>
<path d="M390.3,195.0 L380.0,218.0" stroke="#fff" stroke-opacity="0.25" stroke-width="5" stroke-linecap="round" filter="url(#bl2)"/>
<path d="M390.3,195.0 L402.0,218.0" stroke="#fff" stroke-opacity="0.25" stroke-width="5" stroke-linecap="round" filter="url(#bl2)"/>
<ellipse cx="390.3" cy="201.5" rx="4.5" ry="7" fill="#fff" opacity="0.3" filter="url(#bl2)"/>
<ellipse cx="400.0" cy="229.0" rx="8" ry="6" fill="#000" opacity="0.1" filter="url(#bl1)"/>
<path d="M424.5,238.0 L412.0,274.0" stroke="#fff" stroke-opacity="0.17" stroke-width="5" stroke-linecap="round" filter="url(#bl2)"/>
<path d="M424.5,238.0 L437.0,274.0" stroke="#fff" stroke-opacity="0.17" stroke-width="5" stroke-linecap="round" filter="url(#bl2)"/>
<ellipse cx="431.5" cy="238.2" rx="3.5" ry="3.5" fill="#000" opacity="0.25" filter="url(#bl6)"/>
<ellipse cx="391.0" cy="186.0" rx="4.0" ry="4.0" fill="#000" opacity="1.0" filter="url(#bl7)"/>
<path d="M347.0,277.6 L347.5,276.4 L348.0,275.2 L348.5,274.0 L349.0,272.8 L349.5,271.6 L350.0,270.5 L350.5,269.4 L351.0,268.3 L351.5,267.3 L352.0,266.2 L352.5,265.2 L353.0,264.3 L353.5,263.3 L354.0,262.4 L354.5,261.6 L355.0,260.7 L355.5,259.9 L356.0,259.1 L356.5,258.4 L357.0,257.7 L357.5,257.0 L358.0,256.4 L358.5,255.8 L359.0,255.2 L359.5,254.7 L360.0,254.3 L360.5,253.8 L361.0,253.5 L361.5,253.1 L362.0,252.8 L362.5,252.6 L363.0,252.4 L363.5,252.2 L364.0,252.1 L364.5,252.0 L365.0,252.0 L365.5,252.0 L366.0,252.1 L366.5,252.2 L367.0,252.4 L367.5,252.6 L368.0,252.8 L368.5,253.1 L369.0,253.5 L369.5,253.8 L370.0,254.3 L370.5,254.7 L371.0,255.2 L371.5,255.8 L372.0,256.4 L372.5,257.0 L373.0,257.7 L373.5,258.4 L374.0,259.1 L374.5,259.9 L375.0,260.7 L375.5,261.6 L376.0,262.4 L376.5,263.3 L377.0,264.3 L377.5,265.2 L378.0,266.2 L378.5,267.3 L379.0,268.3 L379.5,269.4 L380.0,270.5 L380.5,271.6 L381.0,272.8 L381.5,274.0 L382.0,275.2 L382.5,276.4 L383.0,277.6" fill="none" stroke="url(#lg46)" stroke-width="9" stroke-linejoin="round" stroke-linecap="round" filter="url(#bl1)"/>
<path d="M351.0,245.1 L351.5,243.7 L352.0,242.4 L352.5,241.0 L353.0,239.7 L353.5,238.4 L354.0,237.1 L354.5,235.9 L355.0,234.7 L355.5,233.6 L356.0,232.4 L356.5,231.3 L357.0,230.3 L357.5,229.3 L358.0,228.4 L358.5,227.5 L359.0,226.6 L359.5,225.8 L360.0,225.1 L360.5,224.5 L361.0,223.8 L361.5,223.3 L362.0,222.8 L362.5,222.4 L363.0,222.1 L363.5,221.8 L364.0,221.7 L364.5,221.5 L365.0,221.5 L365.5,221.5 L366.0,221.7 L366.5,221.8 L367.0,222.1 L367.5,222.4 L368.0,222.8 L368.5,223.3 L369.0,223.8 L369.5,224.5 L370.0,225.1 L370.5,225.8 L371.0,226.6 L371.5,227.5 L372.0,228.4 L372.5,229.3 L373.0,230.3 L373.5,231.3 L374.0,232.4 L374.5,233.6 L375.0,234.7 L375.5,235.9 L376.0,237.1 L376.5,238.4 L377.0,239.7 L377.5,241.0 L378.0,242.4 L378.5,243.7 L379.0,245.1" fill="none" stroke="url(#lg47)" stroke-width="6" stroke-linejoin="round" stroke-linecap="round" filter="url(#bl4)"/>
<ellipse cx="365.0" cy="221.5" rx="7" ry="6" fill="#000" opacity="1.0" filter="url(#bl5)"/>
<path d="M343.0,278.8 L343.5,277.3 L344.0,275.8 L344.5,274.3 L345.0,272.9 L345.5,271.5 L346.0,270.0 L346.5,268.6 L347.0,267.3 L347.5,265.9 L348.0,264.5 L348.5,263.2 L348.9,261.9 L349.4,260.6 L349.9,259.3 L350.4,258.1 L350.9,256.9 L351.4,255.7 L351.9,254.5 L352.4,253.4 L352.9,252.3 L353.4,251.2 L353.9,250.1 L354.4,249.1 L354.9,248.1 L355.4,247.2 L355.9,246.3 L356.4,245.4 L356.9,244.6 L357.4,243.8 L357.9,243.0 L358.4,242.3 L358.9,241.6 L359.4,241.0 L359.8,240.4 L360.3,239.9 L360.8,239.4 L361.3,239.0 L361.8,238.6 L362.3,238.3 L362.8,238.0 L363.3,237.8 L363.8,237.7 L364.3,237.6 L364.8,237.5 L365.3,237.5" fill="none" stroke="url(#lg48)" stroke-width="4.5" stroke-linejoin="round" stroke-linecap="round" filter="url(#bl6)"/>
<path d="M364.7,237.5 L365.2,237.5 L365.7,237.6 L366.2,237.7 L366.7,237.8 L367.2,238.0 L367.7,238.3 L368.2,238.6 L368.7,239.0 L369.2,239.4 L369.7,239.9 L370.2,240.4 L370.6,241.0 L371.1,241.6 L371.6,242.3 L372.1,243.0 L372.6,243.8 L373.1,244.6 L373.6,245.4 L374.1,246.3 L374.6,247.2 L375.1,248.1 L375.6,249.1 L376.1,250.1 L376.6,251.2 L377.1,252.3 L377.6,253.4 L378.1,254.5 L378.6,255.7 L379.1,256.9 L379.6,258.1 L380.1,259.3 L380.6,260.6 L381.1,261.9 L381.5,263.2 L382.0,264.5 L382.5,265.9 L383.0,267.3 L383.5,268.6 L384.0,270.0 L384.5,271.5 L385.0,272.9 L385.5,274.3 L386.0,275.8 L386.5,277.3 L387.0,278.8" fill="none" stroke="url(#lg49)" stroke-width="4.5" stroke-linejoin="round" stroke-linecap="round" filter="url(#bl6)"/>
<ellipse cx="365.0" cy="237.5" rx="5.5" ry="7" fill="#fff" opacity="1.0" filter="url(#bl3)"/>
<path d="M358.0,242.8 L358.5,242.1 L359.0,241.4 L359.5,240.8 L360.0,240.3 L360.5,239.7 L361.0,239.3 L361.5,238.9 L362.0,238.5 L362.5,238.2 L363.0,237.9 L363.5,237.8 L364.0,237.6 L364.5,237.5 L365.0,237.5 L365.5,237.5 L366.0,237.6 L366.5,237.8 L367.0,237.9 L367.5,238.2 L368.0,238.5 L368.5,238.9 L369.0,239.3 L369.5,239.7 L370.0,240.3 L370.5,240.8 L371.0,241.4 L371.5,242.1 L372.0,242.8" fill="none" stroke="url(#lg50)" stroke-width="5.5" stroke-linejoin="round" stroke-linecap="round" filter="url(#bl7)"/>
<path d="M472.0,280.7 L472.5,279.5 L473.0,278.3 L473.5,277.1 L474.0,276.0 L474.5,274.9 L475.0,273.8 L475.5,272.7 L476.0,271.7 L476.5,270.6 L477.0,269.7 L477.5,268.7 L478.0,267.8 L478.5,266.9 L479.0,266.0 L479.5,265.1 L480.0,264.3 L480.5,263.5 L481.0,262.8 L481.5,262.1 L482.0,261.4 L482.5,260.8 L483.0,260.2 L483.5,259.6 L484.0,259.1 L484.5,258.6 L485.0,258.2 L485.5,257.8 L486.0,257.4 L486.5,257.1 L487.0,256.8 L487.5,256.5 L488.0,256.3 L488.5,256.2 L489.0,256.1 L489.5,256.0 L490.0,256.0 L490.5,256.0 L491.0,256.1 L491.5,256.2 L492.0,256.3 L492.5,256.5 L493.0,256.8 L493.5,257.1 L494.0,257.4 L494.5,257.8 L495.0,258.2 L495.5,258.6 L496.0,259.1 L496.5,259.6 L497.0,260.2 L497.5,260.8 L498.0,261.4 L498.5,262.1 L499.0,262.8 L499.5,263.5 L500.0,264.3 L500.5,265.1 L501.0,266.0 L501.5,266.9 L502.0,267.8 L502.5,268.7 L503.0,269.7 L503.5,270.6 L504.0,271.7 L504.5,272.7 L505.0,273.8 L505.5,274.9 L506.0,276.0 L506.5,277.1 L507.0,278.3 L507.5,279.5 L508.0,280.7" fill="none" stroke="url(#lg51)" stroke-width="9" stroke-linejoin="round" stroke-linecap="round" filter="url(#bl1)"/>
<path d="M476.0,246.2 L476.5,244.8 L477.0,243.4 L477.5,242.1 L478.0,240.8 L478.5,239.5 L479.0,238.3 L479.5,237.1 L480.0,235.9 L480.5,234.8 L481.0,233.7 L481.5,232.6 L482.0,231.6 L482.5,230.6 L483.0,229.7 L483.5,228.8 L484.0,228.0 L484.5,227.2 L485.0,226.5 L485.5,225.9 L486.0,225.3 L486.5,224.8 L487.0,224.3 L487.5,223.9 L488.0,223.6 L488.5,223.3 L489.0,223.1 L489.5,223.0 L490.0,223.0 L490.5,223.0 L491.0,223.1 L491.5,223.3 L492.0,223.6 L492.5,223.9 L493.0,224.3 L493.5,224.8 L494.0,225.3 L494.5,225.9 L495.0,226.5 L495.5,227.2 L496.0,228.0 L496.5,228.8 L497.0,229.7 L497.5,230.6 L498.0,231.6 L498.5,232.6 L499.0,233.7 L499.5,234.8 L500.0,235.9 L500.5,237.1 L501.0,238.3 L501.5,239.5 L502.0,240.8 L502.5,242.1 L503.0,243.4 L503.5,244.8 L504.0,246.2" fill="none" stroke="url(#lg52)" stroke-width="6" stroke-linejoin="round" stroke-linecap="round" filter="url(#bl4)"/>
<ellipse cx="490.0" cy="223.0" rx="8" ry="7" fill="#000" opacity="0.6" filter="url(#bl1)"/>
<path d="M464.0,293.1 L464.5,291.6 L465.0,290.0 L465.5,288.5 L466.0,287.0 L466.5,285.5 L467.0,284.0 L467.5,282.5 L468.0,281.0 L468.5,279.6 L469.0,278.1 L469.5,276.7 L470.0,275.3 L470.5,273.9 L470.9,272.5 L471.4,271.1 L471.9,269.7 L472.4,268.4 L472.9,267.1 L473.4,265.8 L473.9,264.5 L474.4,263.3 L474.9,262.0 L475.4,260.8 L475.9,259.6 L476.4,258.5 L476.9,257.4 L477.4,256.3 L477.9,255.2 L478.4,254.1 L478.9,253.1 L479.4,252.1 L479.9,251.2 L480.4,250.3 L480.9,249.4 L481.4,248.5 L481.9,247.7 L482.4,247.0 L482.9,246.3 L483.4,245.6 L483.8,244.9 L484.3,244.3 L484.8,243.8 L485.3,243.3 L485.8,242.8 L486.3,242.4 L486.8,242.1 L487.3,241.8 L487.8,241.5 L488.3,241.3 L488.8,241.2 L489.3,241.1 L489.8,241.0 L490.3,241.0" fill="none" stroke="url(#lg53)" stroke-width="4.5" stroke-linejoin="round" stroke-linecap="round" filter="url(#bl6)"/>
<path d="M489.7,241.0 L490.2,241.0 L490.7,241.1 L491.2,241.2 L491.7,241.3 L492.2,241.5 L492.7,241.8 L493.2,242.1 L493.7,242.4 L494.2,242.8 L494.7,243.3 L495.2,243.8 L495.7,244.3 L496.2,244.9 L496.6,245.6 L497.1,246.3 L497.6,247.0 L498.1,247.7 L498.6,248.5 L499.1,249.4 L499.6,250.3 L500.1,251.2 L500.6,252.1 L501.1,253.1 L501.6,254.1 L502.1,255.2 L502.6,256.3 L503.1,257.4 L503.6,258.5 L504.1,259.6 L504.6,260.8 L505.1,262.0 L505.6,263.3 L506.1,264.5 L506.6,265.8 L507.1,267.1 L507.6,268.4 L508.1,269.7 L508.6,271.1 L509.1,272.5 L509.5,273.9 L510.0,275.3 L510.5,276.7 L511.0,278.1 L511.5,279.6 L512.0,281.0 L512.5,282.5 L513.0,284.0 L513.5,285.5 L514.0,287.0 L514.5,288.5 L515.0,290.0 L515.5,291.6 L516.0,293.1" fill="none" stroke="url(#lg54)" stroke-width="4.5" stroke-linejoin="round" stroke-linecap="round" filter="url(#bl6)"/>
<ellipse cx="490.0" cy="241.0" rx="5" ry="6.5" fill="#fff" opacity="0.6" filter="url(#bl3)"/>
<path d="M483.0,246.0 L483.5,245.4 L484.0,244.7 L484.5,244.2 L485.0,243.6 L485.5,243.1 L486.0,242.7 L486.5,242.3 L487.0,242.0 L487.5,241.7 L488.0,241.4 L488.5,241.2 L489.0,241.1 L489.5,241.0 L490.0,241.0 L490.5,241.0 L491.0,241.1 L491.5,241.2 L492.0,241.4 L492.5,241.7 L493.0,242.0 L493.5,242.3 L494.0,242.7 L494.5,243.1 L495.0,243.6 L495.5,244.2 L496.0,244.7 L496.5,245.4 L497.0,246.0" fill="none" stroke="url(#lg55)" stroke-width="5.5" stroke-linejoin="round" stroke-linecap="round" filter="url(#bl7)"/>
<text x="351.00" y="267.40" font-family="'Liberation Serif', 'Times New Roman', serif" font-size="18.5" font-weight="bold" fill="#fff" textLength="26.50" lengthAdjust="spacingAndGlyphs" filter="url(#bl8)"><tspan font-size="15.5">#</tspan>10</text>
<text x="479.30" y="268.70" font-family="'Liberation Serif', 'Times New Roman', serif" font-size="18.5" font-weight="bold" fill="#fff" textLength="25.90" lengthAdjust="spacingAndGlyphs" filter="url(#bl8)"><tspan font-size="15.5">#</tspan>11</text>
<text x="429.60" y="194.10" font-family="'Liberation Serif', 'Times New Roman', serif" font-size="18" font-weight="normal" fill="#fff" textLength="48.90" lengthAdjust="spacingAndGlyphs" filter="url(#bl8)">gravel</text>
<text x="443.30" y="215.60" font-family="'Liberation Serif', 'Times New Roman', serif" font-size="17.5" font-weight="normal" fill="#fff" textLength="89.10" lengthAdjust="spacingAndGlyphs" filter="url(#bl8)">plastic pipe</text>
<g filter="url(#bl10)"><path d="M419.8,187.5 L400.4,192.5" stroke="#fff" stroke-width="1.6" stroke-linecap="round"/><path d="M393.6,194.2 L400.5,188.8 L402.2,195.6 Z" fill="#fff"/></g>
<g filter="url(#bl10)"><path d="M444.5,219.9 L430.4,230.3" stroke="#fff" stroke-width="1.6" stroke-linecap="round"/><path d="M424.8,234.4 L429.2,226.8 L433.3,232.5 Z" fill="#fff"/></g>
</g>
<path d="M316.40,274.60v-2.6M316.40,173.45v2.6M371.07,274.60v-2.6M371.07,173.45v2.6M425.75,274.60v-2.6M425.75,173.45v2.6M480.43,274.60v-2.6M480.43,173.45v2.6M535.10,274.60v-2.6M535.10,173.45v2.6M316.40,173.45h2.6M535.10,173.45h-2.6M316.40,207.17h2.6M535.10,207.17h-2.6M316.40,240.88h2.6M535.10,240.88h-2.6M316.40,274.60h2.6M535.10,274.60h-2.6" stroke="#000" stroke-width="1" fill="none"/>
<rect x="316.4" y="173.45" width="218.70" height="101.15" fill="none" stroke="#000" stroke-width="1.3"/>
<text transform="translate(312.80,177.55) scale(1,1.07)" x="0" y="0" font-family="'Liberation Sans', Arial, Helvetica, sans-serif" font-size="11.4" text-anchor="end" fill="#000" font-weight="normal" stroke="#000" stroke-width="0.25" >0</text>
<text transform="translate(312.80,211.27) scale(1,1.07)" x="0" y="0" font-family="'Liberation Sans', Arial, Helvetica, sans-serif" font-size="11.4" text-anchor="end" fill="#000" font-weight="normal" stroke="#000" stroke-width="0.25" >1</text>
<rect x="305.80" y="209.82" width="3.00" height="2.6" fill="#fff"/>
<rect x="310.25" y="209.82" width="3.20" height="2.6" fill="#fff"/>
<text transform="translate(312.80,244.98) scale(1,1.07)" x="0" y="0" font-family="'Liberation Sans', Arial, Helvetica, sans-serif" font-size="11.4" text-anchor="end" fill="#000" font-weight="normal" stroke="#000" stroke-width="0.25" >2</text>
<text transform="translate(312.80,278.70) scale(1,1.07)" x="0" y="0" font-family="'Liberation Sans', Arial, Helvetica, sans-serif" font-size="11.4" text-anchor="end" fill="#000" font-weight="normal" stroke="#000" stroke-width="0.25" >3</text>
<text transform="translate(316.40,288.20) scale(1,1.07)" x="0" y="0" font-family="'Liberation Sans', Arial, Helvetica, sans-serif" font-size="11.4" text-anchor="middle" fill="#000" font-weight="normal" stroke="#000" stroke-width="0.25" >0</text>
<text transform="translate(371.07,288.20) scale(1,1.07)" x="0" y="0" font-family="'Liberation Sans', Arial, Helvetica, sans-serif" font-size="11.4" text-anchor="middle" fill="#000" font-weight="normal" textLength="16.4" lengthAdjust="spacingAndGlyphs" stroke="#000" stroke-width="0.25" >0.2</text>
<text transform="translate(425.75,288.20) scale(1,1.07)" x="0" y="0" font-family="'Liberation Sans', Arial, Helvetica, sans-serif" font-size="11.4" text-anchor="middle" fill="#000" font-weight="normal" textLength="16.4" lengthAdjust="spacingAndGlyphs" stroke="#000" stroke-width="0.25" >0.4</text>
<text transform="translate(480.43,288.20) scale(1,1.07)" x="0" y="0" font-family="'Liberation Sans', Arial, Helvetica, sans-serif" font-size="11.4" text-anchor="middle" fill="#000" font-weight="normal" textLength="16.4" lengthAdjust="spacingAndGlyphs" stroke="#000" stroke-width="0.25" >0.6</text>
<text transform="translate(535.10,288.20) scale(1,1.07)" x="0" y="0" font-family="'Liberation Sans', Arial, Helvetica, sans-serif" font-size="11.4" text-anchor="middle" fill="#000" font-weight="normal" textLength="16.4" lengthAdjust="spacingAndGlyphs" stroke="#000" stroke-width="0.25" >0.8</text>
<text transform="translate(424.85,303.00) scale(1,1.07)" x="0" y="0" font-family="'Liberation Sans', Arial, Helvetica, sans-serif" font-size="11.4" text-anchor="middle" fill="#000" font-weight="normal" textLength="69" lengthAdjust="spacingAndGlyphs" stroke="#000" stroke-width="0.25" >Distance [m]</text>
<g transform="translate(299.20,223.53) rotate(-90)"><text transform="translate(0.00,0.00) scale(1,1.07)" x="0" y="0" font-family="'Liberation Sans', Arial, Helvetica, sans-serif" font-size="11.4" text-anchor="middle" fill="#000" font-weight="normal" textLength="52" lengthAdjust="spacingAndGlyphs" stroke="#000" stroke-width="0.25" >Time [ns]</text></g>
<text x="418.00" y="328.80" font-family="'Liberation Serif', 'Times New Roman', serif" font-size="16.5" text-anchor="middle" fill="#000" font-weight="normal" textLength="21.3" lengthAdjust="spacingAndGlyphs" >(d)</text>
</svg>
</body></html>
